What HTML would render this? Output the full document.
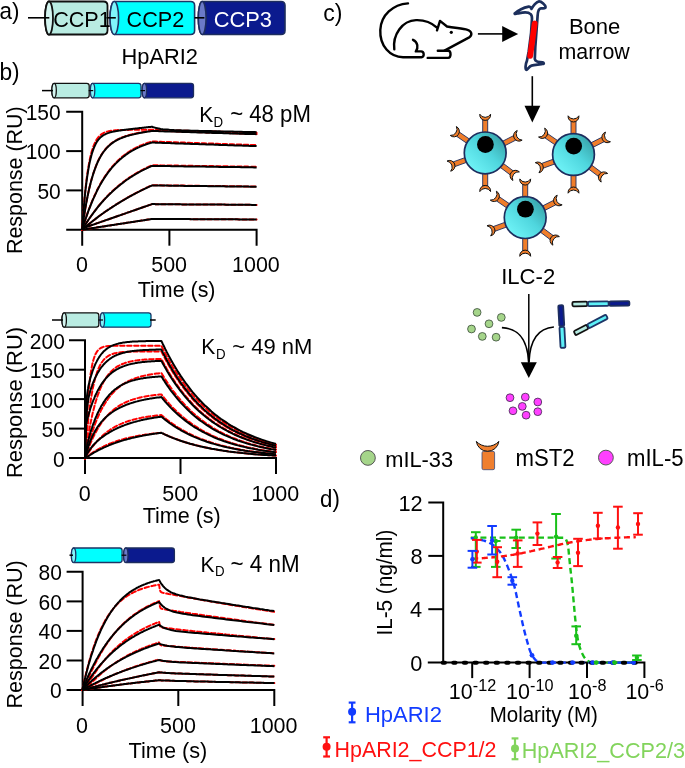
<!DOCTYPE html>
<html><head><meta charset="utf-8"><style>
html,body{margin:0;padding:0;background:#fff;}
svg{display:block;font-family:'Liberation Sans',Arial,Helvetica,sans-serif;}
</style></head><body>
<svg width="685" height="768" viewBox="0 0 685 768">
<text transform="translate(0,18.5) scale(1,1.04)" x="-0.4" y="0" font-size="22.43" fill="#000">a)</text>
<path d="M49,1.5 L103.5,1.5 Q107.5,1.5 107.5,5.5 L107.5,30.5 Q107.5,34.5 103.5,34.5 L49,34.5 A4,16.5 0 0 1 49,1.5 Z" fill="#b9ece2" stroke="#111" stroke-width="1.8"/>
<ellipse cx="49" cy="18" rx="4" ry="16.5" fill="#d4f5f0" stroke="#111" stroke-width="1.8"/>
<path d="M114.3,1.5 L190.6,1.5 Q194.6,1.5 194.6,5.5 L194.6,30.5 Q194.6,34.5 190.6,34.5 L114.3,34.5 A4.3,16.5 0 0 1 114.3,1.5 Z" fill="#00ffff" stroke="#1d3566" stroke-width="1.6"/>
<ellipse cx="114.3" cy="18" rx="4.3" ry="16.5" fill="#80f5fb" stroke="#1d3566" stroke-width="1.6"/>
<path d="M202.2,1.5 L281,1.5 Q285,1.5 285,5.5 L285,30.5 Q285,34.5 281,34.5 L202.2,34.5 A3.9,16.5 0 0 1 202.2,1.5 Z" fill="#0b1a8e" stroke="#1d2d5e" stroke-width="1.6"/>
<ellipse cx="202.2" cy="18" rx="3.9" ry="16.5" fill="#6b7ac8" stroke="#1d2d5e" stroke-width="1.6"/>
<line x1="28" y1="17.8" x2="49.3" y2="17.8" stroke="#000" stroke-width="1.6" />
<line x1="106.5" y1="17.8" x2="115.8" y2="17.8" stroke="#000" stroke-width="1.6" />
<line x1="194.6" y1="17.8" x2="204.4" y2="17.8" stroke="#000" stroke-width="1.6" />
<text transform="translate(0,27) scale(1,1.04)" x="53.2" y="0" font-size="21.60" fill="#000">CCP1</text>
<text transform="translate(0,26.6) scale(1,1.04)" x="126.6" y="0" font-size="21.63" fill="#000">CCP2</text>
<text transform="translate(0,26.6) scale(1,1.04)" x="213.7" y="0" font-size="21.84" fill="#fff">CCP3</text>
<text transform="translate(0,64.4) scale(1,1.04)" x="121.5" y="0" font-size="21.85" fill="#000">HpARI2</text>
<text transform="translate(0,80.3) scale(1,1.04)" x="-0.6" y="0" font-size="22.68" fill="#000">b)</text>
<path d="M54.1,83.3 L86.7,83.3 Q89.2,83.3 89.2,85.8 L89.2,95.3 Q89.2,97.8 86.7,97.8 L54.1,97.8 A2.2,7.2 0 0 1 54.1,83.3 Z" fill="#b9ece2" stroke="#111" stroke-width="1.3"/>
<ellipse cx="54.1" cy="90.6" rx="2.2" ry="7.2" fill="#d4f5f0" stroke="#111" stroke-width="1.3"/>
<path d="M92.6,83.3 L138.5,83.3 Q141,83.3 141,85.8 L141,95.3 Q141,97.8 138.5,97.8 L92.6,97.8 A2.2,7.2 0 0 1 92.6,83.3 Z" fill="#00ffff" stroke="#1d3566" stroke-width="1.3"/>
<ellipse cx="92.6" cy="90.6" rx="2.2" ry="7.2" fill="#80f5fb" stroke="#1d3566" stroke-width="1.3"/>
<path d="M144.4,83.3 L191,83.3 Q193.5,83.3 193.5,85.8 L193.5,95.3 Q193.5,97.8 191,97.8 L144.4,97.8 A2.2,7.2 0 0 1 144.4,83.3 Z" fill="#0b1a8e" stroke="#1d2d5e" stroke-width="1.3"/>
<ellipse cx="144.4" cy="90.6" rx="2.2" ry="7.2" fill="#6b7ac8" stroke="#1d2d5e" stroke-width="1.3"/>
<line x1="42" y1="90.6" x2="53" y2="90.6" stroke="#000" stroke-width="1.5" />
<line x1="88.7" y1="90.6" x2="93.2" y2="90.6" stroke="#000" stroke-width="1.2" />
<line x1="140.5" y1="90.6" x2="145" y2="90.6" stroke="#000" stroke-width="1.2" />
<path d="M64.2,312.8 L96.3,312.8 Q98.8,312.8 98.8,315.2 L98.8,324.8 Q98.8,327.2 96.3,327.2 L64.2,327.2 A2.2,7.2 0 0 1 64.2,312.8 Z" fill="#b9ece2" stroke="#111" stroke-width="1.3"/>
<ellipse cx="64.2" cy="320" rx="2.2" ry="7.2" fill="#d4f5f0" stroke="#111" stroke-width="1.3"/>
<path d="M102.4,312.8 L148.5,312.8 Q151,312.8 151,315.2 L151,324.8 Q151,327.2 148.5,327.2 L102.4,327.2 A2.2,7.2 0 0 1 102.4,312.8 Z" fill="#00ffff" stroke="#1d3566" stroke-width="1.3"/>
<ellipse cx="102.4" cy="320" rx="2.2" ry="7.2" fill="#80f5fb" stroke="#1d3566" stroke-width="1.3"/>
<line x1="52" y1="320" x2="63" y2="320" stroke="#000" stroke-width="1.5" />
<line x1="150" y1="320" x2="155.7" y2="320" stroke="#000" stroke-width="1.5" />
<line x1="98.3" y1="320" x2="103" y2="320" stroke="#000" stroke-width="1.2" />
<path d="M73.6,548 L119.6,548 Q122.1,548 122.1,550.5 L122.1,560 Q122.1,562.5 119.6,562.5 L73.6,562.5 A2.2,7.2 0 0 1 73.6,548 Z" fill="#00ffff" stroke="#1d3566" stroke-width="1.3"/>
<ellipse cx="73.6" cy="555.2" rx="2.2" ry="7.2" fill="#80f5fb" stroke="#1d3566" stroke-width="1.3"/>
<path d="M125.8,548 L171.9,548 Q174.4,548 174.4,550.5 L174.4,560 Q174.4,562.5 171.9,562.5 L125.8,562.5 A2.2,7.2 0 0 1 125.8,548 Z" fill="#0b1a8e" stroke="#1d2d5e" stroke-width="1.3"/>
<ellipse cx="125.8" cy="555.2" rx="2.2" ry="7.2" fill="#6b7ac8" stroke="#1d2d5e" stroke-width="1.3"/>
<line x1="69.5" y1="555.2" x2="73" y2="555.2" stroke="#000" stroke-width="1.5" />
<line x1="121.6" y1="555.2" x2="126.4" y2="555.2" stroke="#000" stroke-width="1.2" />
<path d="M66.2,111.8 H82.2 V245.7" fill="none" stroke="#000" stroke-width="2.0"/>
<line x1="66.2" y1="190.4" x2="82.2" y2="190.4" stroke="#000" stroke-width="2.0" />
<line x1="66.2" y1="151.1" x2="82.2" y2="151.1" stroke="#000" stroke-width="2.0" />
<path d="M66.2,229.7 H256.6 V245.7" fill="none" stroke="#000" stroke-width="2.0"/>
<line x1="169.4" y1="229.7" x2="169.4" y2="245.7" stroke="#000" stroke-width="2.0" />
<path d="M82.2,229.7 L82.5,224.3 L82.9,219.1 L83.2,214.2 L83.6,209.7 L83.9,205.3 L84.3,201.2 L84.6,197.3 L85,193.6 L85.3,190.1 L85.7,186.9 L86.4,180.8 L87.1,175.4 L87.8,170.6 L88.5,166.3 L89.2,162.4 L89.9,158.9 L90.6,155.8 L91.3,153.1 L92,150.6 L92.7,148.4 L93.4,146.4 L94.1,144.7 L94.8,143.1 L95.5,141.7 L96.2,140.4 L96.8,139.3 L97.5,138.3 L98.2,137.4 L98.9,136.6 L99.6,135.9 L100.3,135.2 L101,134.6 L101.7,134.1 L102.4,133.7 L103.1,133.3 L103.8,132.9 L104.5,132.6 L105.2,132.3 L105.9,132 L106.6,131.8 L107.3,131.6 L108,131.4 L108.7,131.2 L109.4,131.1 L110.1,130.9 L110.8,130.8 L111.5,130.7 L112.2,130.6 L112.9,130.5 L113.6,130.4 L114.3,130.4 L115,130.3 L115.7,130.3 L116.4,130.2 L117.1,130.2 L117.8,130.1 L118.5,130.1 L119.2,130.1 L119.9,130 L120.6,130 L121.3,130 L122,130 L122.7,129.9 L123.4,129.9 L124.1,129.9 L124.8,129.9 L125.5,129.9 L126.1,129.9 L126.8,129.9 L127.5,129.9 L128.2,129.9 L128.9,129.8 L129.6,129.8 L130.3,129.8 L131,129.8 L131.7,129.8 L132.4,129.8 L133.1,129.8 L133.8,129.8 L134.5,129.8 L135.2,129.8 L135.9,129.8 L136.6,129.8 L137.3,129.8 L138,129.8 L138.7,129.8 L139.4,129.8 L140.1,129.8 L140.8,129.8 L141.5,129.8 L142.2,129.8 L142.9,129.8 L143.6,129.8 L144.3,129.8 L145,129.8 L145.7,129.8 L146.4,129.8 L147.1,129.8 L147.8,129.8 L148.5,129.8 L149.2,129.8 L149.9,129.8 L150.6,129.8 L151.3,129.8 L152,129.8 L152.7,129.8 L153.4,129.8 L154.1,129.9 L154.8,129.9 L155.4,129.9 L156.1,129.9 L156.8,129.9 L157.5,130 L158.2,130 L158.9,130 L160.7,130 L162.9,130.1 L165,130.2 L167.2,130.2 L169.4,130.3 L171.6,130.4 L173.8,130.4 L175.9,130.5 L178.1,130.5 L180.3,130.6 L182.5,130.7 L184.7,130.7 L186.8,130.8 L189,130.9 L191.2,130.9 L193.4,131 L195.6,131 L197.7,131.1 L199.9,131.2 L202.1,131.2 L204.3,131.3 L206.5,131.3 L208.6,131.4 L210.8,131.5 L213,131.5 L215.2,131.6 L217.4,131.6 L219.5,131.7 L221.7,131.8 L223.9,131.8 L226.1,131.9 L228.3,132 L230.4,132 L232.6,132.1 L234.8,132.1 L237,132.2 L239.2,132.3 L241.3,132.3 L243.5,132.4 L245.7,132.4 L247.9,132.5 L250.1,132.6 L252.2,132.6 L254.4,132.7 L256.6,132.7" fill="none" stroke="#ff0000" stroke-width="2" stroke-linejoin="round" stroke-dasharray="4.5,2.5" stroke-linecap="round"/>
<path d="M82.2,229.7 L82.5,227 L82.9,224.5 L83.2,221.9 L83.6,219.5 L83.9,217.1 L84.3,214.8 L84.6,212.6 L85,210.4 L85.3,208.3 L85.7,206.2 L86.4,202.3 L87.1,198.6 L87.8,195.1 L88.5,191.8 L89.2,188.7 L89.9,185.7 L90.6,182.9 L91.3,180.3 L92,177.8 L92.7,175.4 L93.4,173.2 L94.1,171.1 L94.8,169.1 L95.5,167.3 L96.2,165.5 L96.8,163.8 L97.5,162.2 L98.2,160.7 L98.9,159.3 L99.6,157.9 L100.3,156.7 L101,155.5 L101.7,154.3 L102.4,153.2 L103.1,152.2 L103.8,151.2 L104.5,150.3 L105.2,149.4 L105.9,148.6 L106.6,147.8 L107.3,147.1 L108,146.4 L108.7,145.7 L109.4,145 L110.1,144.4 L110.8,143.8 L111.5,143.3 L112.2,142.8 L112.9,142.3 L113.6,141.8 L114.3,141.3 L115,140.9 L115.7,140.5 L116.4,140.1 L117.1,139.7 L117.8,139.3 L118.5,139 L119.2,138.6 L119.9,138.3 L120.6,138 L121.3,137.7 L122,137.4 L122.7,137.2 L123.4,136.9 L124.1,136.7 L124.8,136.4 L125.5,136.2 L126.1,135.9 L126.8,135.7 L127.5,135.5 L128.2,135.3 L128.9,135.1 L129.6,134.9 L130.3,134.7 L131,134.6 L131.7,134.4 L132.4,134.2 L133.1,134 L133.8,133.9 L134.5,133.7 L135.2,133.6 L135.9,133.4 L136.6,133.3 L137.3,133.1 L138,133 L138.7,132.8 L139.4,132.7 L140.1,132.6 L140.8,132.4 L141.5,132.3 L142.2,132.2 L142.9,132 L143.6,131.9 L144.3,131.8 L145,131.7 L145.7,131.6 L146.4,131.4 L147.1,131.3 L147.8,131.2 L148.5,131.1 L149.2,131 L149.9,130.9 L150.6,130.8 L151.3,130.7 L152,130.5 L152.7,130.6 L153.4,130.6 L154.1,130.6 L154.8,130.6 L155.4,130.7 L156.1,130.7 L156.8,130.7 L157.5,130.7 L158.2,130.8 L158.9,130.8 L160.7,130.8 L162.9,130.9 L165,131 L167.2,131.1 L169.4,131.1 L171.6,131.2 L173.8,131.3 L175.9,131.4 L178.1,131.4 L180.3,131.5 L182.5,131.6 L184.7,131.7 L186.8,131.7 L189,131.8 L191.2,131.9 L193.4,132 L195.6,132 L197.7,132.1 L199.9,132.2 L202.1,132.2 L204.3,132.3 L206.5,132.4 L208.6,132.5 L210.8,132.5 L213,132.6 L215.2,132.7 L217.4,132.8 L219.5,132.8 L221.7,132.9 L223.9,133 L226.1,133 L228.3,133.1 L230.4,133.2 L232.6,133.3 L234.8,133.3 L237,133.4 L239.2,133.5 L241.3,133.6 L243.5,133.6 L245.7,133.7 L247.9,133.8 L250.1,133.8 L252.2,133.9 L254.4,134 L256.6,134.1" fill="none" stroke="#ff0000" stroke-width="2" stroke-linejoin="round" stroke-dasharray="4.5,2.5" stroke-linecap="round"/>
<path d="M82.2,229.7 L82.5,228.5 L82.9,227.4 L83.2,226.2 L83.6,225.1 L83.9,223.9 L84.3,222.8 L84.6,221.7 L85,220.6 L85.3,219.6 L85.7,218.5 L86.4,216.4 L87.1,214.4 L87.8,212.4 L88.5,210.5 L89.2,208.6 L89.9,206.8 L90.6,205 L91.3,203.2 L92,201.5 L92.7,199.9 L93.4,198.3 L94.1,196.7 L94.8,195.1 L95.5,193.6 L96.2,192.2 L96.8,190.7 L97.5,189.3 L98.2,188 L98.9,186.6 L99.6,185.3 L100.3,184.1 L101,182.8 L101.7,181.6 L102.4,180.4 L103.1,179.3 L103.8,178.2 L104.5,177.1 L105.2,176 L105.9,175 L106.6,174 L107.3,173 L108,172 L108.7,171.1 L109.4,170.1 L110.1,169.2 L110.8,168.4 L111.5,167.5 L112.2,166.7 L112.9,165.9 L113.6,165.1 L114.3,164.3 L115,163.5 L115.7,162.8 L116.4,162.1 L117.1,161.4 L117.8,160.7 L118.5,160 L119.2,159.4 L119.9,158.7 L120.6,158.1 L121.3,157.5 L122,156.9 L122.7,156.4 L123.4,155.8 L124.1,155.2 L124.8,154.7 L125.5,154.2 L126.1,153.7 L126.8,153.2 L127.5,152.7 L128.2,152.2 L128.9,151.8 L129.6,151.3 L130.3,150.9 L131,150.4 L131.7,150 L132.4,149.6 L133.1,149.2 L133.8,148.8 L134.5,148.5 L135.2,148.1 L135.9,147.7 L136.6,147.4 L137.3,147 L138,146.7 L138.7,146.4 L139.4,146.1 L140.1,145.7 L140.8,145.4 L141.5,145.2 L142.2,144.9 L142.9,144.6 L143.6,144.3 L144.3,144 L145,143.8 L145.7,143.5 L146.4,143.3 L147.1,143 L147.8,142.8 L148.5,142.6 L149.2,142.3 L149.9,142.1 L150.6,141.9 L151.3,141.7 L152,141.5 L152.7,141.5 L153.4,141.5 L154.1,141.6 L154.8,141.6 L155.4,141.6 L156.1,141.6 L156.8,141.7 L157.5,141.7 L158.2,141.7 L158.9,141.7 L160.7,141.8 L162.9,141.9 L165,142 L167.2,142 L169.4,142.1 L171.6,142.2 L173.8,142.3 L175.9,142.3 L178.1,142.4 L180.3,142.5 L182.5,142.6 L184.7,142.6 L186.8,142.7 L189,142.8 L191.2,142.9 L193.4,142.9 L195.6,143 L197.7,143.1 L199.9,143.2 L202.1,143.2 L204.3,143.3 L206.5,143.4 L208.6,143.5 L210.8,143.6 L213,143.6 L215.2,143.7 L217.4,143.8 L219.5,143.9 L221.7,143.9 L223.9,144 L226.1,144.1 L228.3,144.2 L230.4,144.2 L232.6,144.3 L234.8,144.4 L237,144.4 L239.2,144.5 L241.3,144.6 L243.5,144.7 L245.7,144.7 L247.9,144.8 L250.1,144.9 L252.2,145 L254.4,145 L256.6,145.1" fill="none" stroke="#ff0000" stroke-width="2" stroke-linejoin="round" stroke-dasharray="4.5,2.5" stroke-linecap="round"/>
<path d="M82.2,229.7 L82.5,229.1 L82.9,228.5 L83.2,228 L83.6,227.4 L83.9,226.8 L84.3,226.2 L84.6,225.7 L85,225.1 L85.3,224.6 L85.7,224 L86.4,222.9 L87.1,221.8 L87.8,220.8 L88.5,219.7 L89.2,218.7 L89.9,217.7 L90.6,216.7 L91.3,215.7 L92,214.7 L92.7,213.7 L93.4,212.8 L94.1,211.8 L94.8,210.9 L95.5,210 L96.2,209.1 L96.8,208.2 L97.5,207.3 L98.2,206.4 L98.9,205.6 L99.6,204.7 L100.3,203.9 L101,203.1 L101.7,202.3 L102.4,201.5 L103.1,200.7 L103.8,199.9 L104.5,199.1 L105.2,198.4 L105.9,197.6 L106.6,196.9 L107.3,196.2 L108,195.4 L108.7,194.7 L109.4,194 L110.1,193.3 L110.8,192.7 L111.5,192 L112.2,191.3 L112.9,190.7 L113.6,190 L114.3,189.4 L115,188.8 L115.7,188.2 L116.4,187.5 L117.1,186.9 L117.8,186.4 L118.5,185.8 L119.2,185.2 L119.9,184.6 L120.6,184.1 L121.3,183.5 L122,183 L122.7,182.4 L123.4,181.9 L124.1,181.4 L124.8,180.8 L125.5,180.3 L126.1,179.8 L126.8,179.3 L127.5,178.8 L128.2,178.3 L128.9,177.9 L129.6,177.4 L130.3,176.9 L131,176.5 L131.7,176 L132.4,175.6 L133.1,175.1 L133.8,174.7 L134.5,174.3 L135.2,173.8 L135.9,173.4 L136.6,173 L137.3,172.6 L138,172.2 L138.7,171.8 L139.4,171.4 L140.1,171 L140.8,170.7 L141.5,170.3 L142.2,169.9 L142.9,169.6 L143.6,169.2 L144.3,168.8 L145,168.5 L145.7,168.1 L146.4,167.8 L147.1,167.5 L147.8,167.1 L148.5,166.8 L149.2,166.5 L149.9,166.2 L150.6,165.9 L151.3,165.5 L152,165.2 L152.7,165.3 L153.4,165.3 L154.1,165.3 L154.8,165.3 L155.4,165.3 L156.1,165.3 L156.8,165.3 L157.5,165.3 L158.2,165.3 L158.9,165.3 L160.7,165.4 L162.9,165.4 L165,165.4 L167.2,165.5 L169.4,165.5 L171.6,165.5 L173.8,165.6 L175.9,165.6 L178.1,165.6 L180.3,165.7 L182.5,165.7 L184.7,165.7 L186.8,165.8 L189,165.8 L191.2,165.8 L193.4,165.9 L195.6,165.9 L197.7,165.9 L199.9,165.9 L202.1,166 L204.3,166 L206.5,166 L208.6,166.1 L210.8,166.1 L213,166.1 L215.2,166.2 L217.4,166.2 L219.5,166.2 L221.7,166.3 L223.9,166.3 L226.1,166.3 L228.3,166.4 L230.4,166.4 L232.6,166.4 L234.8,166.5 L237,166.5 L239.2,166.5 L241.3,166.5 L243.5,166.6 L245.7,166.6 L247.9,166.6 L250.1,166.7 L252.2,166.7 L254.4,166.7 L256.6,166.8" fill="none" stroke="#ff0000" stroke-width="2" stroke-linejoin="round" stroke-dasharray="4.5,2.5" stroke-linecap="round"/>
<path d="M82.2,229.7 L82.5,229.4 L82.9,229.1 L83.2,228.8 L83.6,228.5 L83.9,228.2 L84.3,227.9 L84.6,227.6 L85,227.3 L85.3,227 L85.7,226.7 L86.4,226.1 L87.1,225.6 L87.8,225 L88.5,224.4 L89.2,223.8 L89.9,223.3 L90.6,222.7 L91.3,222.2 L92,221.6 L92.7,221 L93.4,220.5 L94.1,220 L94.8,219.4 L95.5,218.9 L96.2,218.3 L96.8,217.8 L97.5,217.3 L98.2,216.8 L98.9,216.2 L99.6,215.7 L100.3,215.2 L101,214.7 L101.7,214.2 L102.4,213.7 L103.1,213.2 L103.8,212.7 L104.5,212.2 L105.2,211.7 L105.9,211.2 L106.6,210.8 L107.3,210.3 L108,209.8 L108.7,209.3 L109.4,208.9 L110.1,208.4 L110.8,207.9 L111.5,207.5 L112.2,207 L112.9,206.5 L113.6,206.1 L114.3,205.6 L115,205.2 L115.7,204.7 L116.4,204.3 L117.1,203.9 L117.8,203.4 L118.5,203 L119.2,202.6 L119.9,202.1 L120.6,201.7 L121.3,201.3 L122,200.9 L122.7,200.5 L123.4,200 L124.1,199.6 L124.8,199.2 L125.5,198.8 L126.1,198.4 L126.8,198 L127.5,197.6 L128.2,197.2 L128.9,196.8 L129.6,196.4 L130.3,196.1 L131,195.7 L131.7,195.3 L132.4,194.9 L133.1,194.5 L133.8,194.2 L134.5,193.8 L135.2,193.4 L135.9,193 L136.6,192.7 L137.3,192.3 L138,192 L138.7,191.6 L139.4,191.2 L140.1,190.9 L140.8,190.5 L141.5,190.2 L142.2,189.8 L142.9,189.5 L143.6,189.2 L144.3,188.8 L145,188.5 L145.7,188.1 L146.4,187.8 L147.1,187.5 L147.8,187.1 L148.5,186.8 L149.2,186.5 L149.9,186.2 L150.6,185.9 L151.3,185.5 L152,185.2 L152.7,185.2 L153.4,185.2 L154.1,185.2 L154.8,185.3 L155.4,185.3 L156.1,185.3 L156.8,185.3 L157.5,185.3 L158.2,185.3 L158.9,185.3 L160.7,185.3 L162.9,185.4 L165,185.4 L167.2,185.4 L169.4,185.4 L171.6,185.5 L173.8,185.5 L175.9,185.5 L178.1,185.6 L180.3,185.6 L182.5,185.6 L184.7,185.6 L186.8,185.7 L189,185.7 L191.2,185.7 L193.4,185.7 L195.6,185.8 L197.7,185.8 L199.9,185.8 L202.1,185.9 L204.3,185.9 L206.5,185.9 L208.6,185.9 L210.8,186 L213,186 L215.2,186 L217.4,186 L219.5,186.1 L221.7,186.1 L223.9,186.1 L226.1,186.2 L228.3,186.2 L230.4,186.2 L232.6,186.2 L234.8,186.3 L237,186.3 L239.2,186.3 L241.3,186.3 L243.5,186.4 L245.7,186.4 L247.9,186.4 L250.1,186.5 L252.2,186.5 L254.4,186.5 L256.6,186.5" fill="none" stroke="#ff0000" stroke-width="2" stroke-linejoin="round" stroke-dasharray="4.5,2.5" stroke-linecap="round"/>
<path d="M82.2,229.7 L82.5,229.1 L82.9,228.7 L83.2,228.4 L83.6,228.2 L83.9,228 L84.3,227.8 L84.6,227.7 L85,227.5 L85.3,227.4 L85.7,227.3 L86.4,227 L87.1,226.8 L87.8,226.5 L88.5,226.3 L89.2,226 L89.9,225.8 L90.6,225.5 L91.3,225.3 L92,225 L92.7,224.8 L93.4,224.6 L94.1,224.3 L94.8,224.1 L95.5,223.8 L96.2,223.6 L96.8,223.3 L97.5,223.1 L98.2,222.9 L98.9,222.6 L99.6,222.4 L100.3,222.1 L101,221.9 L101.7,221.6 L102.4,221.4 L103.1,221.2 L103.8,220.9 L104.5,220.7 L105.2,220.4 L105.9,220.2 L106.6,219.9 L107.3,219.7 L108,219.5 L108.7,219.2 L109.4,219 L110.1,218.7 L110.8,218.5 L111.5,218.2 L112.2,218 L112.9,217.8 L113.6,217.5 L114.3,217.3 L115,217 L115.7,216.8 L116.4,216.5 L117.1,216.3 L117.8,216 L118.5,215.8 L119.2,215.6 L119.9,215.3 L120.6,215.1 L121.3,214.8 L122,214.6 L122.7,214.3 L123.4,214.1 L124.1,213.9 L124.8,213.6 L125.5,213.4 L126.1,213.1 L126.8,212.9 L127.5,212.6 L128.2,212.4 L128.9,212.2 L129.6,211.9 L130.3,211.7 L131,211.4 L131.7,211.2 L132.4,210.9 L133.1,210.7 L133.8,210.5 L134.5,210.2 L135.2,210 L135.9,209.7 L136.6,209.5 L137.3,209.2 L138,209 L138.7,208.7 L139.4,208.5 L140.1,208.3 L140.8,208 L141.5,207.8 L142.2,207.5 L142.9,207.3 L143.6,207 L144.3,206.8 L145,206.6 L145.7,206.3 L146.4,206.1 L147.1,205.8 L147.8,205.6 L148.5,205.3 L149.2,205.1 L149.9,204.9 L150.6,204.6 L151.3,204.4 L152,204.1 L152.7,204.1 L153.4,204.1 L154.1,204.1 L154.8,204.1 L155.4,204.2 L156.1,204.2 L156.8,204.2 L157.5,204.2 L158.2,204.2 L158.9,204.2 L160.7,204.2 L162.9,204.2 L165,204.2 L167.2,204.2 L169.4,204.3 L171.6,204.3 L173.8,204.3 L175.9,204.3 L178.1,204.3 L180.3,204.3 L182.5,204.4 L184.7,204.4 L186.8,204.4 L189,204.4 L191.2,204.4 L193.4,204.4 L195.6,204.4 L197.7,204.5 L199.9,204.5 L202.1,204.5 L204.3,204.5 L206.5,204.5 L208.6,204.5 L210.8,204.6 L213,204.6 L215.2,204.6 L217.4,204.6 L219.5,204.6 L221.7,204.6 L223.9,204.6 L226.1,204.7 L228.3,204.7 L230.4,204.7 L232.6,204.7 L234.8,204.7 L237,204.7 L239.2,204.8 L241.3,204.8 L243.5,204.8 L245.7,204.8 L247.9,204.8 L250.1,204.8 L252.2,204.9 L254.4,204.9 L256.6,204.9" fill="none" stroke="#ff0000" stroke-width="2" stroke-linejoin="round" stroke-dasharray="4.5,2.5" stroke-linecap="round"/>
<path d="M82.2,229.7 L82.5,229.6 L82.9,229.6 L83.2,229.5 L83.6,229.5 L83.9,229.4 L84.3,229.4 L84.6,229.3 L85,229.3 L85.3,229.2 L85.7,229.2 L86.4,229.1 L87.1,229 L87.8,228.8 L88.5,228.7 L89.2,228.6 L89.9,228.5 L90.6,228.4 L91.3,228.3 L92,228.2 L92.7,228.1 L93.4,228 L94.1,227.9 L94.8,227.8 L95.5,227.7 L96.2,227.6 L96.8,227.5 L97.5,227.3 L98.2,227.2 L98.9,227.1 L99.6,227 L100.3,226.9 L101,226.8 L101.7,226.7 L102.4,226.6 L103.1,226.5 L103.8,226.4 L104.5,226.3 L105.2,226.2 L105.9,226.1 L106.6,226 L107.3,225.8 L108,225.7 L108.7,225.6 L109.4,225.5 L110.1,225.4 L110.8,225.3 L111.5,225.2 L112.2,225.1 L112.9,225 L113.6,224.9 L114.3,224.8 L115,224.7 L115.7,224.6 L116.4,224.5 L117.1,224.3 L117.8,224.2 L118.5,224.1 L119.2,224 L119.9,223.9 L120.6,223.8 L121.3,223.7 L122,223.6 L122.7,223.5 L123.4,223.4 L124.1,223.3 L124.8,223.2 L125.5,223.1 L126.1,223 L126.8,222.8 L127.5,222.7 L128.2,222.6 L128.9,222.5 L129.6,222.4 L130.3,222.3 L131,222.2 L131.7,222.1 L132.4,222 L133.1,221.9 L133.8,221.8 L134.5,221.7 L135.2,221.6 L135.9,221.5 L136.6,221.3 L137.3,221.2 L138,221.1 L138.7,221 L139.4,220.9 L140.1,220.8 L140.8,220.7 L141.5,220.6 L142.2,220.5 L142.9,220.4 L143.6,220.3 L144.3,220.2 L145,220.1 L145.7,220 L146.4,219.8 L147.1,219.7 L147.8,219.6 L148.5,219.5 L149.2,219.4 L149.9,219.3 L150.6,219.2 L151.3,219.1 L152,219 L152.7,219 L153.4,219 L154.1,219 L154.8,219 L155.4,219 L156.1,219 L156.8,219 L157.5,219 L158.2,219 L158.9,219 L160.7,219 L162.9,219 L165,219 L167.2,219.1 L169.4,219.1 L171.6,219.1 L173.8,219.1 L175.9,219.1 L178.1,219.1 L180.3,219.1 L182.5,219.1 L184.7,219.1 L186.8,219.1 L189,219.1 L191.2,219.2 L193.4,219.2 L195.6,219.2 L197.7,219.2 L199.9,219.2 L202.1,219.2 L204.3,219.2 L206.5,219.2 L208.6,219.2 L210.8,219.2 L213,219.2 L215.2,219.3 L217.4,219.3 L219.5,219.3 L221.7,219.3 L223.9,219.3 L226.1,219.3 L228.3,219.3 L230.4,219.3 L232.6,219.3 L234.8,219.3 L237,219.3 L239.2,219.4 L241.3,219.4 L243.5,219.4 L245.7,219.4 L247.9,219.4 L250.1,219.4 L252.2,219.4 L254.4,219.4 L256.6,219.4" fill="none" stroke="#ff0000" stroke-width="2" stroke-linejoin="round" stroke-dasharray="4.5,2.5" stroke-linecap="round"/>
<path d="M82.2,229.7 L82.5,224.5 L82.9,219.5 L83.2,214.9 L83.6,210.5 L83.9,206.3 L84.3,202.3 L84.6,198.6 L85,195 L85.3,191.7 L85.7,188.5 L86.4,182.7 L87.1,177.4 L87.8,172.8 L88.5,168.6 L89.2,164.8 L89.9,161.4 L90.6,158.4 L91.3,155.7 L92,153.3 L92.7,151.1 L93.4,149.1 L94.1,147.4 L94.8,145.8 L95.5,144.3 L96.2,143.1 L96.8,141.9 L97.5,140.9 L98.2,139.9 L98.9,139.1 L99.6,138.3 L100.3,137.6 L101,137 L101.7,136.4 L102.4,135.9 L103.1,135.4 L103.8,135 L104.5,134.6 L105.2,134.3 L105.9,133.9 L106.6,133.6 L107.3,133.4 L108,133.1 L108.7,132.9 L109.4,132.6 L110.1,132.4 L110.8,132.2 L111.5,132.1 L112.2,131.9 L112.9,131.7 L113.6,131.6 L114.3,131.4 L115,131.3 L115.7,131.2 L116.4,131.1 L117.1,130.9 L117.8,130.8 L118.5,130.7 L119.2,130.6 L119.9,130.5 L120.6,130.4 L121.3,130.3 L122,130.2 L122.7,130.1 L123.4,130 L124.1,129.9 L124.8,129.8 L125.5,129.7 L126.1,129.7 L126.8,129.6 L127.5,129.5 L128.2,129.4 L128.9,129.3 L129.6,129.2 L130.3,129.2 L131,129.1 L131.7,129 L132.4,128.9 L133.1,128.8 L133.8,128.8 L134.5,128.7 L135.2,128.6 L135.9,128.5 L136.6,128.4 L137.3,128.4 L138,128.3 L138.7,128.2 L139.4,128.1 L140.1,128 L140.8,128 L141.5,127.9 L142.2,127.8 L142.9,127.7 L143.6,127.7 L144.3,127.6 L145,127.5 L145.7,127.4 L146.4,127.3 L147.1,127.3 L147.8,127.2 L148.5,127.1 L149.2,127 L149.9,127 L150.6,126.9 L151.3,126.8 L152,126.7 L152.7,127 L153.4,127.2 L154.1,127.4 L154.8,127.6 L155.4,127.8 L156.1,128 L156.8,128.2 L157.5,128.3 L158.2,128.5 L158.9,128.6 L160.7,128.9 L162.9,129.2 L165,129.4 L167.2,129.6 L169.4,129.8 L171.6,129.9 L173.8,130.1 L175.9,130.2 L178.1,130.3 L180.3,130.3 L182.5,130.4 L184.7,130.5 L186.8,130.6 L189,130.6 L191.2,130.7 L193.4,130.7 L195.6,130.8 L197.7,130.8 L199.9,130.9 L202.1,130.9 L204.3,131 L206.5,131 L208.6,131.1 L210.8,131.1 L213,131.2 L215.2,131.2 L217.4,131.3 L219.5,131.3 L221.7,131.4 L223.9,131.4 L226.1,131.5 L228.3,131.5 L230.4,131.6 L232.6,131.6 L234.8,131.7 L237,131.7 L239.2,131.8 L241.3,131.8 L243.5,131.9 L245.7,131.9 L247.9,132 L250.1,132 L252.2,132.1 L254.4,132.1 L256.6,132.2" fill="none" stroke="#000" stroke-width="2" stroke-linejoin="round"/>
<path d="M82.2,229.7 L82.5,227 L82.9,224.5 L83.2,222 L83.6,219.5 L83.9,217.2 L84.3,214.9 L84.6,212.7 L85,210.5 L85.3,208.4 L85.7,206.3 L86.4,202.4 L87.1,198.7 L87.8,195.2 L88.5,191.9 L89.2,188.8 L89.9,185.9 L90.6,183.1 L91.3,180.5 L92,178 L92.7,175.7 L93.4,173.4 L94.1,171.4 L94.8,169.4 L95.5,167.5 L96.2,165.7 L96.8,164.1 L97.5,162.5 L98.2,161 L98.9,159.6 L99.6,158.2 L100.3,157 L101,155.8 L101.7,154.6 L102.4,153.5 L103.1,152.5 L103.8,151.5 L104.5,150.6 L105.2,149.8 L105.9,148.9 L106.6,148.1 L107.3,147.4 L108,146.7 L108.7,146 L109.4,145.4 L110.1,144.8 L110.8,144.2 L111.5,143.6 L112.2,143.1 L112.9,142.6 L113.6,142.1 L114.3,141.7 L115,141.2 L115.7,140.8 L116.4,140.4 L117.1,140.1 L117.8,139.7 L118.5,139.3 L119.2,139 L119.9,138.7 L120.6,138.4 L121.3,138.1 L122,137.8 L122.7,137.5 L123.4,137.3 L124.1,137 L124.8,136.8 L125.5,136.5 L126.1,136.3 L126.8,136.1 L127.5,135.9 L128.2,135.7 L128.9,135.5 L129.6,135.3 L130.3,135.1 L131,134.9 L131.7,134.8 L132.4,134.6 L133.1,134.4 L133.8,134.3 L134.5,134.1 L135.2,133.9 L135.9,133.8 L136.6,133.6 L137.3,133.5 L138,133.4 L138.7,133.2 L139.4,133.1 L140.1,132.9 L140.8,132.8 L141.5,132.7 L142.2,132.6 L142.9,132.4 L143.6,132.3 L144.3,132.2 L145,132.1 L145.7,132 L146.4,131.8 L147.1,131.7 L147.8,131.6 L148.5,131.5 L149.2,131.4 L149.9,131.3 L150.6,131.2 L151.3,131.1 L152,130.9 L152.7,131 L153.4,131 L154.1,131 L154.8,131 L155.4,131.1 L156.1,131.1 L156.8,131.1 L157.5,131.1 L158.2,131.1 L158.9,131.2 L160.7,131.2 L162.9,131.3 L165,131.4 L167.2,131.4 L169.4,131.5 L171.6,131.6 L173.8,131.6 L175.9,131.7 L178.1,131.8 L180.3,131.8 L182.5,131.9 L184.7,132 L186.8,132 L189,132.1 L191.2,132.2 L193.4,132.2 L195.6,132.3 L197.7,132.4 L199.9,132.5 L202.1,132.5 L204.3,132.6 L206.5,132.7 L208.6,132.7 L210.8,132.8 L213,132.9 L215.2,132.9 L217.4,133 L219.5,133.1 L221.7,133.1 L223.9,133.2 L226.1,133.3 L228.3,133.3 L230.4,133.4 L232.6,133.5 L234.8,133.5 L237,133.6 L239.2,133.7 L241.3,133.7 L243.5,133.8 L245.7,133.9 L247.9,133.9 L250.1,134 L252.2,134.1 L254.4,134.1 L256.6,134.2" fill="none" stroke="#000" stroke-width="2" stroke-linejoin="round"/>
<path d="M82.2,229.7 L82.5,228.5 L82.9,227.4 L83.2,226.2 L83.6,225.1 L83.9,224 L84.3,222.9 L84.6,221.8 L85,220.7 L85.3,219.7 L85.7,218.6 L86.4,216.6 L87.1,214.6 L87.8,212.6 L88.5,210.7 L89.2,208.9 L89.9,207.1 L90.6,205.3 L91.3,203.6 L92,201.9 L92.7,200.2 L93.4,198.6 L94.1,197.1 L94.8,195.5 L95.5,194.1 L96.2,192.6 L96.8,191.2 L97.5,189.8 L98.2,188.5 L98.9,187.1 L99.6,185.9 L100.3,184.6 L101,183.4 L101.7,182.2 L102.4,181 L103.1,179.9 L103.8,178.8 L104.5,177.7 L105.2,176.6 L105.9,175.6 L106.6,174.6 L107.3,173.6 L108,172.7 L108.7,171.7 L109.4,170.8 L110.1,170 L110.8,169.1 L111.5,168.2 L112.2,167.4 L112.9,166.6 L113.6,165.8 L114.3,165.1 L115,164.3 L115.7,163.6 L116.4,162.9 L117.1,162.2 L117.8,161.5 L118.5,160.9 L119.2,160.2 L119.9,159.6 L120.6,159 L121.3,158.4 L122,157.8 L122.7,157.2 L123.4,156.7 L124.1,156.1 L124.8,155.6 L125.5,155.1 L126.1,154.6 L126.8,154.1 L127.5,153.6 L128.2,153.1 L128.9,152.7 L129.6,152.2 L130.3,151.8 L131,151.4 L131.7,151 L132.4,150.6 L133.1,150.2 L133.8,149.8 L134.5,149.4 L135.2,149.1 L135.9,148.7 L136.6,148.4 L137.3,148 L138,147.7 L138.7,147.4 L139.4,147.1 L140.1,146.7 L140.8,146.4 L141.5,146.2 L142.2,145.9 L142.9,145.6 L143.6,145.3 L144.3,145.1 L145,144.8 L145.7,144.5 L146.4,144.3 L147.1,144.1 L147.8,143.8 L148.5,143.6 L149.2,143.4 L149.9,143.2 L150.6,142.9 L151.3,142.7 L152,142.5 L152.7,142.6 L153.4,142.6 L154.1,142.6 L154.8,142.6 L155.4,142.7 L156.1,142.7 L156.8,142.7 L157.5,142.7 L158.2,142.8 L158.9,142.8 L160.7,142.8 L162.9,142.9 L165,143 L167.2,143.1 L169.4,143.1 L171.6,143.2 L173.8,143.3 L175.9,143.4 L178.1,143.4 L180.3,143.5 L182.5,143.6 L184.7,143.7 L186.8,143.7 L189,143.8 L191.2,143.9 L193.4,144 L195.6,144 L197.7,144.1 L199.9,144.2 L202.1,144.3 L204.3,144.3 L206.5,144.4 L208.6,144.5 L210.8,144.6 L213,144.6 L215.2,144.7 L217.4,144.8 L219.5,144.9 L221.7,144.9 L223.9,145 L226.1,145.1 L228.3,145.2 L230.4,145.2 L232.6,145.3 L234.8,145.4 L237,145.5 L239.2,145.5 L241.3,145.6 L243.5,145.7 L245.7,145.8 L247.9,145.8 L250.1,145.9 L252.2,146 L254.4,146 L256.6,146.1" fill="none" stroke="#000" stroke-width="2" stroke-linejoin="round"/>
<path d="M82.2,229.7 L82.5,229.1 L82.9,228.5 L83.2,228 L83.6,227.4 L83.9,226.8 L84.3,226.3 L84.6,225.7 L85,225.2 L85.3,224.6 L85.7,224.1 L86.4,223 L87.1,221.9 L87.8,220.9 L88.5,219.8 L89.2,218.8 L89.9,217.8 L90.6,216.8 L91.3,215.8 L92,214.8 L92.7,213.9 L93.4,212.9 L94.1,212 L94.8,211.1 L95.5,210.2 L96.2,209.3 L96.8,208.4 L97.5,207.5 L98.2,206.7 L98.9,205.8 L99.6,205 L100.3,204.2 L101,203.3 L101.7,202.5 L102.4,201.7 L103.1,201 L103.8,200.2 L104.5,199.4 L105.2,198.7 L105.9,197.9 L106.6,197.2 L107.3,196.5 L108,195.8 L108.7,195.1 L109.4,194.4 L110.1,193.7 L110.8,193 L111.5,192.4 L112.2,191.7 L112.9,191.1 L113.6,190.4 L114.3,189.8 L115,189.2 L115.7,188.6 L116.4,188 L117.1,187.4 L117.8,186.8 L118.5,186.2 L119.2,185.6 L119.9,185.1 L120.6,184.5 L121.3,184 L122,183.4 L122.7,182.9 L123.4,182.4 L124.1,181.8 L124.8,181.3 L125.5,180.8 L126.1,180.3 L126.8,179.8 L127.5,179.3 L128.2,178.9 L128.9,178.4 L129.6,177.9 L130.3,177.5 L131,177 L131.7,176.6 L132.4,176.1 L133.1,175.7 L133.8,175.2 L134.5,174.8 L135.2,174.4 L135.9,174 L136.6,173.6 L137.3,173.2 L138,172.8 L138.7,172.4 L139.4,172 L140.1,171.6 L140.8,171.2 L141.5,170.9 L142.2,170.5 L142.9,170.1 L143.6,169.8 L144.3,169.4 L145,169.1 L145.7,168.8 L146.4,168.4 L147.1,168.1 L147.8,167.8 L148.5,167.4 L149.2,167.1 L149.9,166.8 L150.6,166.5 L151.3,166.2 L152,165.9 L152.7,165.9 L153.4,165.9 L154.1,165.9 L154.8,165.9 L155.4,165.9 L156.1,165.9 L156.8,166 L157.5,166 L158.2,166 L158.9,166 L160.7,166 L162.9,166 L165,166.1 L167.2,166.1 L169.4,166.1 L171.6,166.2 L173.8,166.2 L175.9,166.2 L178.1,166.3 L180.3,166.3 L182.5,166.3 L184.7,166.4 L186.8,166.4 L189,166.4 L191.2,166.5 L193.4,166.5 L195.6,166.5 L197.7,166.5 L199.9,166.6 L202.1,166.6 L204.3,166.6 L206.5,166.7 L208.6,166.7 L210.8,166.7 L213,166.8 L215.2,166.8 L217.4,166.8 L219.5,166.9 L221.7,166.9 L223.9,166.9 L226.1,167 L228.3,167 L230.4,167 L232.6,167 L234.8,167.1 L237,167.1 L239.2,167.1 L241.3,167.2 L243.5,167.2 L245.7,167.2 L247.9,167.3 L250.1,167.3 L252.2,167.3 L254.4,167.4 L256.6,167.4" fill="none" stroke="#000" stroke-width="2" stroke-linejoin="round"/>
<path d="M82.2,229.7 L82.5,229.4 L82.9,229.1 L83.2,228.8 L83.6,228.5 L83.9,228.2 L84.3,227.9 L84.6,227.6 L85,227.3 L85.3,227 L85.7,226.7 L86.4,226.2 L87.1,225.6 L87.8,225 L88.5,224.4 L89.2,223.9 L89.9,223.3 L90.6,222.7 L91.3,222.2 L92,221.6 L92.7,221.1 L93.4,220.5 L94.1,220 L94.8,219.5 L95.5,218.9 L96.2,218.4 L96.8,217.9 L97.5,217.4 L98.2,216.8 L98.9,216.3 L99.6,215.8 L100.3,215.3 L101,214.8 L101.7,214.3 L102.4,213.8 L103.1,213.3 L103.8,212.8 L104.5,212.3 L105.2,211.8 L105.9,211.3 L106.6,210.8 L107.3,210.4 L108,209.9 L108.7,209.4 L109.4,209 L110.1,208.5 L110.8,208 L111.5,207.6 L112.2,207.1 L112.9,206.7 L113.6,206.2 L114.3,205.8 L115,205.3 L115.7,204.9 L116.4,204.4 L117.1,204 L117.8,203.6 L118.5,203.1 L119.2,202.7 L119.9,202.3 L120.6,201.9 L121.3,201.4 L122,201 L122.7,200.6 L123.4,200.2 L124.1,199.8 L124.8,199.4 L125.5,199 L126.1,198.6 L126.8,198.2 L127.5,197.8 L128.2,197.4 L128.9,197 L129.6,196.6 L130.3,196.2 L131,195.8 L131.7,195.5 L132.4,195.1 L133.1,194.7 L133.8,194.3 L134.5,194 L135.2,193.6 L135.9,193.2 L136.6,192.9 L137.3,192.5 L138,192.1 L138.7,191.8 L139.4,191.4 L140.1,191.1 L140.8,190.7 L141.5,190.4 L142.2,190 L142.9,189.7 L143.6,189.4 L144.3,189 L145,188.7 L145.7,188.3 L146.4,188 L147.1,187.7 L147.8,187.4 L148.5,187 L149.2,186.7 L149.9,186.4 L150.6,186.1 L151.3,185.8 L152,185.4 L152.7,185.4 L153.4,185.5 L154.1,185.5 L154.8,185.5 L155.4,185.5 L156.1,185.5 L156.8,185.5 L157.5,185.5 L158.2,185.5 L158.9,185.5 L160.7,185.6 L162.9,185.6 L165,185.6 L167.2,185.6 L169.4,185.7 L171.6,185.7 L173.8,185.7 L175.9,185.7 L178.1,185.8 L180.3,185.8 L182.5,185.8 L184.7,185.9 L186.8,185.9 L189,185.9 L191.2,185.9 L193.4,186 L195.6,186 L197.7,186 L199.9,186 L202.1,186.1 L204.3,186.1 L206.5,186.1 L208.6,186.2 L210.8,186.2 L213,186.2 L215.2,186.2 L217.4,186.3 L219.5,186.3 L221.7,186.3 L223.9,186.3 L226.1,186.4 L228.3,186.4 L230.4,186.4 L232.6,186.5 L234.8,186.5 L237,186.5 L239.2,186.5 L241.3,186.6 L243.5,186.6 L245.7,186.6 L247.9,186.6 L250.1,186.7 L252.2,186.7 L254.4,186.7 L256.6,186.7" fill="none" stroke="#000" stroke-width="2" stroke-linejoin="round"/>
<path d="M82.2,229.7 L82.5,229.1 L82.9,228.7 L83.2,228.4 L83.6,228.2 L83.9,228 L84.3,227.8 L84.6,227.7 L85,227.5 L85.3,227.4 L85.7,227.3 L86.4,227 L87.1,226.8 L87.8,226.5 L88.5,226.3 L89.2,226 L89.9,225.8 L90.6,225.5 L91.3,225.3 L92,225 L92.7,224.8 L93.4,224.6 L94.1,224.3 L94.8,224.1 L95.5,223.8 L96.2,223.6 L96.8,223.3 L97.5,223.1 L98.2,222.9 L98.9,222.6 L99.6,222.4 L100.3,222.1 L101,221.9 L101.7,221.6 L102.4,221.4 L103.1,221.2 L103.8,220.9 L104.5,220.7 L105.2,220.4 L105.9,220.2 L106.6,219.9 L107.3,219.7 L108,219.5 L108.7,219.2 L109.4,219 L110.1,218.7 L110.8,218.5 L111.5,218.2 L112.2,218 L112.9,217.8 L113.6,217.5 L114.3,217.3 L115,217 L115.7,216.8 L116.4,216.5 L117.1,216.3 L117.8,216 L118.5,215.8 L119.2,215.6 L119.9,215.3 L120.6,215.1 L121.3,214.8 L122,214.6 L122.7,214.3 L123.4,214.1 L124.1,213.9 L124.8,213.6 L125.5,213.4 L126.1,213.1 L126.8,212.9 L127.5,212.6 L128.2,212.4 L128.9,212.2 L129.6,211.9 L130.3,211.7 L131,211.4 L131.7,211.2 L132.4,210.9 L133.1,210.7 L133.8,210.5 L134.5,210.2 L135.2,210 L135.9,209.7 L136.6,209.5 L137.3,209.2 L138,209 L138.7,208.7 L139.4,208.5 L140.1,208.3 L140.8,208 L141.5,207.8 L142.2,207.5 L142.9,207.3 L143.6,207 L144.3,206.8 L145,206.6 L145.7,206.3 L146.4,206.1 L147.1,205.8 L147.8,205.6 L148.5,205.3 L149.2,205.1 L149.9,204.9 L150.6,204.6 L151.3,204.4 L152,204.1 L152.7,204.1 L153.4,204.1 L154.1,204.1 L154.8,204.1 L155.4,204.2 L156.1,204.2 L156.8,204.2 L157.5,204.2 L158.2,204.2 L158.9,204.2 L160.7,204.2 L162.9,204.2 L165,204.2 L167.2,204.2 L169.4,204.3 L171.6,204.3 L173.8,204.3 L175.9,204.3 L178.1,204.3 L180.3,204.3 L182.5,204.4 L184.7,204.4 L186.8,204.4 L189,204.4 L191.2,204.4 L193.4,204.4 L195.6,204.4 L197.7,204.5 L199.9,204.5 L202.1,204.5 L204.3,204.5 L206.5,204.5 L208.6,204.5 L210.8,204.6 L213,204.6 L215.2,204.6 L217.4,204.6 L219.5,204.6 L221.7,204.6 L223.9,204.6 L226.1,204.7 L228.3,204.7 L230.4,204.7 L232.6,204.7 L234.8,204.7 L237,204.7 L239.2,204.8 L241.3,204.8 L243.5,204.8 L245.7,204.8 L247.9,204.8 L250.1,204.8 L252.2,204.9 L254.4,204.9 L256.6,204.9" fill="none" stroke="#000" stroke-width="2" stroke-linejoin="round"/>
<path d="M82.2,229.7 L82.5,229.6 L82.9,229.6 L83.2,229.5 L83.6,229.5 L83.9,229.4 L84.3,229.4 L84.6,229.3 L85,229.3 L85.3,229.2 L85.7,229.2 L86.4,229.1 L87.1,229 L87.8,228.8 L88.5,228.7 L89.2,228.6 L89.9,228.5 L90.6,228.4 L91.3,228.3 L92,228.2 L92.7,228.1 L93.4,228 L94.1,227.9 L94.8,227.8 L95.5,227.7 L96.2,227.6 L96.8,227.5 L97.5,227.3 L98.2,227.2 L98.9,227.1 L99.6,227 L100.3,226.9 L101,226.8 L101.7,226.7 L102.4,226.6 L103.1,226.5 L103.8,226.4 L104.5,226.3 L105.2,226.2 L105.9,226.1 L106.6,226 L107.3,225.8 L108,225.7 L108.7,225.6 L109.4,225.5 L110.1,225.4 L110.8,225.3 L111.5,225.2 L112.2,225.1 L112.9,225 L113.6,224.9 L114.3,224.8 L115,224.7 L115.7,224.6 L116.4,224.5 L117.1,224.3 L117.8,224.2 L118.5,224.1 L119.2,224 L119.9,223.9 L120.6,223.8 L121.3,223.7 L122,223.6 L122.7,223.5 L123.4,223.4 L124.1,223.3 L124.8,223.2 L125.5,223.1 L126.1,223 L126.8,222.8 L127.5,222.7 L128.2,222.6 L128.9,222.5 L129.6,222.4 L130.3,222.3 L131,222.2 L131.7,222.1 L132.4,222 L133.1,221.9 L133.8,221.8 L134.5,221.7 L135.2,221.6 L135.9,221.5 L136.6,221.3 L137.3,221.2 L138,221.1 L138.7,221 L139.4,220.9 L140.1,220.8 L140.8,220.7 L141.5,220.6 L142.2,220.5 L142.9,220.4 L143.6,220.3 L144.3,220.2 L145,220.1 L145.7,220 L146.4,219.8 L147.1,219.7 L147.8,219.6 L148.5,219.5 L149.2,219.4 L149.9,219.3 L150.6,219.2 L151.3,219.1 L152,219 L152.7,219 L153.4,219 L154.1,219 L154.8,219 L155.4,219 L156.1,219 L156.8,219 L157.5,219 L158.2,219 L158.9,219 L160.7,219 L162.9,219 L165,219 L167.2,219.1 L169.4,219.1 L171.6,219.1 L173.8,219.1 L175.9,219.1 L178.1,219.1 L180.3,219.1 L182.5,219.1 L184.7,219.1 L186.8,219.1 L189,219.1 L191.2,219.2 L193.4,219.2 L195.6,219.2 L197.7,219.2 L199.9,219.2 L202.1,219.2 L204.3,219.2 L206.5,219.2 L208.6,219.2 L210.8,219.2 L213,219.2 L215.2,219.3 L217.4,219.3 L219.5,219.3 L221.7,219.3 L223.9,219.3 L226.1,219.3 L228.3,219.3 L230.4,219.3 L232.6,219.3 L234.8,219.3 L237,219.3 L239.2,219.4 L241.3,219.4 L243.5,219.4 L245.7,219.4 L247.9,219.4 L250.1,219.4 L252.2,219.4 L254.4,219.4 L256.6,219.4" fill="none" stroke="#000" stroke-width="2" stroke-linejoin="round"/>
<text transform="translate(0,120) scale(1,1.04)" x="25.7" y="0" font-size="21.00" fill="#000">150</text>
<text transform="translate(0,159.3) scale(1,1.04)" x="25.7" y="0" font-size="21.00" fill="#000">100</text>
<text transform="translate(0,198.6) scale(1,1.04)" x="37.4" y="0" font-size="21.00" fill="#000">50</text>
<text transform="translate(0,272.4) scale(1,1.04)" x="75.9" y="0" font-size="21.50" fill="#000">0</text>
<text transform="translate(0,272.4) scale(1,1.04)" x="151.2" y="0" font-size="21.50" fill="#000">500</text>
<text transform="translate(0,272.4) scale(1,1.04)" x="232" y="0" font-size="21.50" fill="#000">1000</text>
<text transform="translate(0,296.5) scale(1,1.04)" x="137.8" y="0" font-size="21.42" fill="#000">Time (s)</text>
<text transform="translate(21.9,0) rotate(-90) scale(1,1.04)" x="-254.1" y="0" font-size="21.46" fill="#000">Response (RU)</text>
<text transform="translate(0,122.2) scale(1,1.04)" x="199.2" y="0" font-size="21.00" fill="#000">K</text>
<text transform="translate(0,127.2) scale(1,1.04)" x="213.4" y="0" font-size="13.30" fill="#000">D</text>
<text transform="translate(0,122.2) scale(1,1.04)" x="230.2" y="0" font-size="22.17" fill="#000">~ 48 pM</text>
<path d="M69,340.3 H85 V474" fill="none" stroke="#000" stroke-width="2.0"/>
<line x1="69" y1="428.6" x2="85" y2="428.6" stroke="#000" stroke-width="2.0" />
<line x1="69" y1="399.1" x2="85" y2="399.1" stroke="#000" stroke-width="2.0" />
<line x1="69" y1="369.7" x2="85" y2="369.7" stroke="#000" stroke-width="2.0" />
<path d="M69,458 H276 V474" fill="none" stroke="#000" stroke-width="2.0"/>
<line x1="180.5" y1="458" x2="180.5" y2="474" stroke="#000" stroke-width="2.0" />
<path d="M85,458.4 L85.4,448.3 L85.8,439.1 L86.1,430.7 L86.5,423.1 L86.9,416.1 L87.3,409.8 L87.7,404.1 L88.1,398.8 L88.4,394.1 L88.8,389.7 L89.6,382.2 L90.3,375.9 L91.1,370.8 L91.9,366.5 L92.6,362.9 L93.4,360 L94.2,357.5 L94.9,355.5 L95.7,353.8 L96.5,352.4 L97.2,351.3 L98,350.3 L98.8,349.5 L99.5,348.9 L100.3,348.3 L101,347.9 L101.8,347.5 L102.6,347.2 L103.3,346.9 L104.1,346.7 L104.9,346.6 L105.6,346.4 L106.4,346.3 L107.2,346.2 L107.9,346.1 L108.7,346 L109.4,346 L110.2,345.9 L111,345.9 L111.7,345.9 L112.5,345.8 L113.3,345.8 L114,345.8 L114.8,345.8 L115.6,345.8 L116.3,345.8 L117.1,345.8 L117.9,345.7 L118.6,345.7 L119.4,345.7 L120.1,345.7 L120.9,345.7 L121.7,345.7 L122.4,345.7 L123.2,345.7 L124,345.7 L124.7,345.7 L125.5,345.7 L126.3,345.7 L127,345.7 L127.8,345.7 L128.5,345.7 L129.3,345.7 L130.1,345.7 L130.8,345.7 L131.6,345.7 L132.4,345.7 L133.1,345.7 L133.9,345.7 L134.7,345.7 L135.4,345.7 L136.2,345.7 L137,345.7 L137.7,345.7 L138.5,345.7 L139.2,345.7 L140,345.7 L140.8,345.7 L141.5,345.7 L142.3,345.7 L143.1,345.7 L143.8,345.7 L144.6,345.7 L145.4,345.7 L146.1,345.7 L146.9,345.7 L147.6,345.7 L148.4,345.7 L149.2,345.7 L149.9,345.7 L150.7,345.7 L151.5,345.7 L152.2,345.7 L153,345.7 L153.8,345.7 L154.5,345.7 L155.3,345.7 L156.1,345.7 L156.8,345.7 L157.6,345.7 L158.3,345.7 L159.1,345.7 L159.9,345.7 L160.6,345.7 L161.4,345.7 L162.2,347.3 L162.9,348.8 L163.7,350.3 L164.5,351.8 L165.2,353.3 L166,354.8 L166.7,356.2 L167.5,357.7 L168.3,359.1 L169,360.4 L170.9,363.8 L173.3,367.9 L175.7,371.7 L178.1,375.4 L180.5,379 L182.9,382.4 L185.3,385.6 L187.7,388.8 L190.1,391.7 L192.4,394.6 L194.8,397.3 L197.2,399.9 L199.6,402.4 L202,404.8 L204.4,407.1 L206.8,409.3 L209.2,411.4 L211.5,413.4 L213.9,415.4 L216.3,417.2 L218.7,419 L221.1,420.7 L223.5,422.3 L225.9,423.8 L228.2,425.3 L230.6,426.7 L233,428.1 L235.4,429.4 L237.8,430.6 L240.2,431.8 L242.6,432.9 L245,434 L247.3,435.1 L249.7,436.1 L252.1,437 L254.5,437.9 L256.9,438.8 L259.3,439.7 L261.7,440.5 L264.1,441.2 L266.5,442 L268.8,442.7 L271.2,443.3 L273.6,444 L276,444.6" fill="none" stroke="#ff0000" stroke-width="2" stroke-linejoin="round" stroke-dasharray="4.5,2.5" stroke-linecap="round"/>
<path d="M85,458.4 L85.4,453 L85.8,447.8 L86.1,443 L86.5,438.3 L86.9,433.9 L87.3,429.7 L87.7,425.8 L88.1,422 L88.4,418.4 L88.8,415.1 L89.6,408.8 L90.3,403.1 L91.1,398 L91.9,393.4 L92.6,389.3 L93.4,385.5 L94.2,382.2 L94.9,379.2 L95.7,376.4 L96.5,374 L97.2,371.7 L98,369.7 L98.8,367.9 L99.5,366.3 L100.3,364.8 L101,363.5 L101.8,362.3 L102.6,361.3 L103.3,360.3 L104.1,359.4 L104.9,358.6 L105.6,357.9 L106.4,357.3 L107.2,356.7 L107.9,356.2 L108.7,355.7 L109.4,355.3 L110.2,354.9 L111,354.6 L111.7,354.3 L112.5,354 L113.3,353.8 L114,353.5 L114.8,353.3 L115.6,353.2 L116.3,353 L117.1,352.8 L117.9,352.7 L118.6,352.6 L119.4,352.5 L120.1,352.4 L120.9,352.3 L121.7,352.2 L122.4,352.1 L123.2,352.1 L124,352 L124.7,352 L125.5,351.9 L126.3,351.9 L127,351.8 L127.8,351.8 L128.5,351.8 L129.3,351.7 L130.1,351.7 L130.8,351.7 L131.6,351.7 L132.4,351.7 L133.1,351.6 L133.9,351.6 L134.7,351.6 L135.4,351.6 L136.2,351.6 L137,351.6 L137.7,351.6 L138.5,351.6 L139.2,351.6 L140,351.6 L140.8,351.5 L141.5,351.5 L142.3,351.5 L143.1,351.5 L143.8,351.5 L144.6,351.5 L145.4,351.5 L146.1,351.5 L146.9,351.5 L147.6,351.5 L148.4,351.5 L149.2,351.5 L149.9,351.5 L150.7,351.5 L151.5,351.5 L152.2,351.5 L153,351.5 L153.8,351.5 L154.5,351.5 L155.3,351.5 L156.1,351.5 L156.8,351.5 L157.6,351.5 L158.3,351.5 L159.1,351.5 L159.9,351.5 L160.6,351.5 L161.4,351.5 L162.2,353 L162.9,354.5 L163.7,356 L164.5,357.5 L165.2,358.9 L166,360.3 L166.7,361.7 L167.5,363.1 L168.3,364.5 L169,365.8 L170.9,369.1 L173.3,373 L175.7,376.8 L178.1,380.4 L180.5,383.8 L182.9,387.1 L185.3,390.2 L187.7,393.2 L190.1,396.1 L192.4,398.8 L194.8,401.5 L197.2,404 L199.6,406.4 L202,408.7 L204.4,410.8 L206.8,412.9 L209.2,414.9 L211.5,416.8 L213.9,418.7 L216.3,420.4 L218.7,422.1 L221.1,423.7 L223.5,425.2 L225.9,426.7 L228.2,428.1 L230.6,429.4 L233,430.7 L235.4,431.9 L237.8,433.1 L240.2,434.2 L242.6,435.3 L245,436.3 L247.3,437.2 L249.7,438.2 L252.1,439.1 L254.5,439.9 L256.9,440.7 L259.3,441.5 L261.7,442.2 L264.1,443 L266.5,443.6 L268.8,444.3 L271.2,444.9 L273.6,445.5 L276,446.1" fill="none" stroke="#ff0000" stroke-width="2" stroke-linejoin="round" stroke-dasharray="4.5,2.5" stroke-linecap="round"/>
<path d="M85,458.4 L85.4,455.5 L85.8,452.6 L86.1,449.8 L86.5,447.1 L86.9,444.5 L87.3,442 L87.7,439.5 L88.1,437.1 L88.4,434.8 L88.8,432.6 L89.6,428.3 L90.3,424.2 L91.1,420.4 L91.9,416.8 L92.6,413.4 L93.4,410.2 L94.2,407.2 L94.9,404.4 L95.7,401.7 L96.5,399.2 L97.2,396.9 L98,394.6 L98.8,392.6 L99.5,390.6 L100.3,388.7 L101,387 L101.8,385.3 L102.6,383.8 L103.3,382.3 L104.1,380.9 L104.9,379.6 L105.6,378.4 L106.4,377.3 L107.2,376.2 L107.9,375.2 L108.7,374.2 L109.4,373.3 L110.2,372.5 L111,371.7 L111.7,370.9 L112.5,370.2 L113.3,369.5 L114,368.9 L114.8,368.3 L115.6,367.7 L116.3,367.2 L117.1,366.7 L117.9,366.2 L118.6,365.8 L119.4,365.4 L120.1,365 L120.9,364.6 L121.7,364.3 L122.4,364 L123.2,363.7 L124,363.4 L124.7,363.1 L125.5,362.8 L126.3,362.6 L127,362.4 L127.8,362.2 L128.5,362 L129.3,361.8 L130.1,361.6 L130.8,361.4 L131.6,361.3 L132.4,361.1 L133.1,361 L133.9,360.8 L134.7,360.7 L135.4,360.6 L136.2,360.5 L137,360.4 L137.7,360.3 L138.5,360.2 L139.2,360.1 L140,360 L140.8,359.9 L141.5,359.9 L142.3,359.8 L143.1,359.7 L143.8,359.7 L144.6,359.6 L145.4,359.6 L146.1,359.5 L146.9,359.5 L147.6,359.4 L148.4,359.4 L149.2,359.3 L149.9,359.3 L150.7,359.3 L151.5,359.2 L152.2,359.2 L153,359.2 L153.8,359.1 L154.5,359.1 L155.3,359.1 L156.1,359.1 L156.8,359 L157.6,359 L158.3,359 L159.1,359 L159.9,359 L160.6,359 L161.4,358.9 L162.2,360.4 L162.9,361.8 L163.7,363.2 L164.5,364.6 L165.2,366 L166,367.3 L166.7,368.7 L167.5,370 L168.3,371.3 L169,372.6 L170.9,375.7 L173.3,379.4 L175.7,382.9 L178.1,386.3 L180.5,389.6 L182.9,392.7 L185.3,395.6 L187.7,398.4 L190.1,401.1 L192.4,403.7 L194.8,406.2 L197.2,408.5 L199.6,410.8 L202,412.9 L204.4,414.9 L206.8,416.9 L209.2,418.8 L211.5,420.5 L213.9,422.2 L216.3,423.9 L218.7,425.4 L221.1,426.9 L223.5,428.3 L225.9,429.7 L228.2,431 L230.6,432.2 L233,433.4 L235.4,434.5 L237.8,435.6 L240.2,436.6 L242.6,437.6 L245,438.5 L247.3,439.4 L249.7,440.3 L252.1,441.1 L254.5,441.9 L256.9,442.6 L259.3,443.3 L261.7,444 L264.1,444.6 L266.5,445.3 L268.8,445.8 L271.2,446.4 L273.6,447 L276,447.5" fill="none" stroke="#ff0000" stroke-width="2" stroke-linejoin="round" stroke-dasharray="4.5,2.5" stroke-linecap="round"/>
<path d="M85,458.4 L85.4,456.8 L85.8,455.1 L86.1,453.6 L86.5,452 L86.9,450.5 L87.3,449 L87.7,447.5 L88.1,446.1 L88.4,444.7 L88.8,443.3 L89.6,440.6 L90.3,438 L91.1,435.5 L91.9,433.1 L92.6,430.8 L93.4,428.6 L94.2,426.4 L94.9,424.4 L95.7,422.4 L96.5,420.5 L97.2,418.6 L98,416.8 L98.8,415.1 L99.5,413.5 L100.3,411.9 L101,410.4 L101.8,408.9 L102.6,407.5 L103.3,406.2 L104.1,404.9 L104.9,403.6 L105.6,402.4 L106.4,401.2 L107.2,400.1 L107.9,399 L108.7,398 L109.4,397 L110.2,396 L111,395.1 L111.7,394.2 L112.5,393.3 L113.3,392.5 L114,391.7 L114.8,390.9 L115.6,390.2 L116.3,389.5 L117.1,388.8 L117.9,388.1 L118.6,387.5 L119.4,386.9 L120.1,386.3 L120.9,385.7 L121.7,385.2 L122.4,384.6 L123.2,384.1 L124,383.7 L124.7,383.2 L125.5,382.7 L126.3,382.3 L127,381.9 L127.8,381.5 L128.5,381.1 L129.3,380.7 L130.1,380.4 L130.8,380 L131.6,379.7 L132.4,379.4 L133.1,379 L133.9,378.8 L134.7,378.5 L135.4,378.2 L136.2,377.9 L137,377.7 L137.7,377.4 L138.5,377.2 L139.2,377 L140,376.7 L140.8,376.5 L141.5,376.3 L142.3,376.1 L143.1,375.9 L143.8,375.8 L144.6,375.6 L145.4,375.4 L146.1,375.3 L146.9,375.1 L147.6,375 L148.4,374.8 L149.2,374.7 L149.9,374.5 L150.7,374.4 L151.5,374.3 L152.2,374.2 L153,374 L153.8,373.9 L154.5,373.8 L155.3,373.7 L156.1,373.6 L156.8,373.5 L157.6,373.4 L158.3,373.4 L159.1,373.3 L159.9,373.2 L160.6,373.1 L161.4,373 L162.2,374.3 L162.9,375.6 L163.7,376.8 L164.5,378.1 L165.2,379.3 L166,380.5 L166.7,381.6 L167.5,382.8 L168.3,383.9 L169,385.1 L170.9,387.8 L173.3,391.1 L175.7,394.2 L178.1,397.2 L180.5,400 L182.9,402.7 L185.3,405.3 L187.7,407.8 L190.1,410.1 L192.4,412.4 L194.8,414.5 L197.2,416.5 L199.6,418.5 L202,420.3 L204.4,422.1 L206.8,423.8 L209.2,425.4 L211.5,426.9 L213.9,428.4 L216.3,429.8 L218.7,431.1 L221.1,432.4 L223.5,433.6 L225.9,434.7 L228.2,435.8 L230.6,436.9 L233,437.9 L235.4,438.8 L237.8,439.7 L240.2,440.6 L242.6,441.4 L245,442.2 L247.3,443 L249.7,443.7 L252.1,444.4 L254.5,445 L256.9,445.6 L259.3,446.2 L261.7,446.8 L264.1,447.3 L266.5,447.8 L268.8,448.3 L271.2,448.8 L273.6,449.2 L276,449.7" fill="none" stroke="#ff0000" stroke-width="2" stroke-linejoin="round" stroke-dasharray="4.5,2.5" stroke-linecap="round"/>
<path d="M85,458.4 L85.4,457.2 L85.8,456.1 L86.1,454.9 L86.5,453.8 L86.9,452.7 L87.3,451.7 L87.7,450.6 L88.1,449.6 L88.4,448.6 L88.8,447.6 L89.6,445.6 L90.3,443.7 L91.1,441.9 L91.9,440.2 L92.6,438.5 L93.4,436.9 L94.2,435.3 L94.9,433.8 L95.7,432.4 L96.5,431 L97.2,429.6 L98,428.3 L98.8,427 L99.5,425.8 L100.3,424.6 L101,423.5 L101.8,422.4 L102.6,421.4 L103.3,420.3 L104.1,419.4 L104.9,418.4 L105.6,417.5 L106.4,416.6 L107.2,415.8 L107.9,415 L108.7,414.2 L109.4,413.4 L110.2,412.7 L111,412 L111.7,411.3 L112.5,410.6 L113.3,410 L114,409.4 L114.8,408.8 L115.6,408.2 L116.3,407.7 L117.1,407.1 L117.9,406.6 L118.6,406.1 L119.4,405.6 L120.1,405.2 L120.9,404.7 L121.7,404.3 L122.4,403.9 L123.2,403.5 L124,403.1 L124.7,402.7 L125.5,402.4 L126.3,402 L127,401.7 L127.8,401.4 L128.5,401.1 L129.3,400.8 L130.1,400.5 L130.8,400.2 L131.6,399.9 L132.4,399.7 L133.1,399.4 L133.9,399.2 L134.7,399 L135.4,398.7 L136.2,398.5 L137,398.3 L137.7,398.1 L138.5,397.9 L139.2,397.7 L140,397.5 L140.8,397.4 L141.5,397.2 L142.3,397 L143.1,396.9 L143.8,396.7 L144.6,396.6 L145.4,396.4 L146.1,396.3 L146.9,396.2 L147.6,396.1 L148.4,395.9 L149.2,395.8 L149.9,395.7 L150.7,395.6 L151.5,395.5 L152.2,395.4 L153,395.3 L153.8,395.2 L154.5,395.1 L155.3,395 L156.1,394.9 L156.8,394.8 L157.6,394.8 L158.3,394.7 L159.1,394.6 L159.9,394.5 L160.6,394.5 L161.4,394.4 L162.2,395.4 L162.9,396.4 L163.7,397.3 L164.5,398.3 L165.2,399.2 L166,400.1 L166.7,401 L167.5,401.9 L168.3,402.7 L169,403.6 L170.9,405.7 L173.3,408.2 L175.7,410.5 L178.1,412.8 L180.5,414.9 L182.9,417 L185.3,419 L187.7,420.8 L190.1,422.6 L192.4,424.3 L194.8,425.9 L197.2,427.4 L199.6,428.9 L202,430.3 L204.4,431.6 L206.8,432.9 L209.2,434.1 L211.5,435.2 L213.9,436.3 L216.3,437.4 L218.7,438.4 L221.1,439.3 L223.5,440.2 L225.9,441.1 L228.2,441.9 L230.6,442.7 L233,443.4 L235.4,444.1 L237.8,444.8 L240.2,445.4 L242.6,446 L245,446.6 L247.3,447.2 L249.7,447.7 L252.1,448.2 L254.5,448.7 L256.9,449.2 L259.3,449.6 L261.7,450 L264.1,450.4 L266.5,450.8 L268.8,451.1 L271.2,451.5 L273.6,451.8 L276,452.1" fill="none" stroke="#ff0000" stroke-width="2" stroke-linejoin="round" stroke-dasharray="4.5,2.5" stroke-linecap="round"/>
<path d="M85,458.4 L85.4,457.7 L85.8,457.1 L86.1,456.4 L86.5,455.7 L86.9,455.1 L87.3,454.5 L87.7,453.9 L88.1,453.2 L88.4,452.6 L88.8,452 L89.6,450.9 L90.3,449.8 L91.1,448.7 L91.9,447.6 L92.6,446.6 L93.4,445.6 L94.2,444.6 L94.9,443.7 L95.7,442.8 L96.5,441.9 L97.2,441 L98,440.2 L98.8,439.4 L99.5,438.6 L100.3,437.8 L101,437.1 L101.8,436.4 L102.6,435.7 L103.3,435 L104.1,434.3 L104.9,433.7 L105.6,433.1 L106.4,432.5 L107.2,431.9 L107.9,431.3 L108.7,430.8 L109.4,430.3 L110.2,429.7 L111,429.2 L111.7,428.8 L112.5,428.3 L113.3,427.8 L114,427.4 L114.8,426.9 L115.6,426.5 L116.3,426.1 L117.1,425.7 L117.9,425.3 L118.6,425 L119.4,424.6 L120.1,424.3 L120.9,423.9 L121.7,423.6 L122.4,423.3 L123.2,423 L124,422.7 L124.7,422.4 L125.5,422.1 L126.3,421.8 L127,421.6 L127.8,421.3 L128.5,421 L129.3,420.8 L130.1,420.6 L130.8,420.3 L131.6,420.1 L132.4,419.9 L133.1,419.7 L133.9,419.5 L134.7,419.3 L135.4,419.1 L136.2,418.9 L137,418.7 L137.7,418.5 L138.5,418.4 L139.2,418.2 L140,418.1 L140.8,417.9 L141.5,417.7 L142.3,417.6 L143.1,417.5 L143.8,417.3 L144.6,417.2 L145.4,417.1 L146.1,416.9 L146.9,416.8 L147.6,416.7 L148.4,416.6 L149.2,416.5 L149.9,416.4 L150.7,416.2 L151.5,416.1 L152.2,416 L153,416 L153.8,415.9 L154.5,415.8 L155.3,415.7 L156.1,415.6 L156.8,415.5 L157.6,415.4 L158.3,415.4 L159.1,415.3 L159.9,415.2 L160.6,415.1 L161.4,415.1 L162.2,415.7 L162.9,416.4 L163.7,417 L164.5,417.7 L165.2,418.3 L166,418.9 L166.7,419.5 L167.5,420.1 L168.3,420.7 L169,421.2 L170.9,422.7 L173.3,424.3 L175.7,425.9 L178.1,427.5 L180.5,428.9 L182.9,430.3 L185.3,431.6 L187.7,432.9 L190.1,434.1 L192.4,435.2 L194.8,436.3 L197.2,437.3 L199.6,438.3 L202,439.3 L204.4,440.2 L206.8,441 L209.2,441.8 L211.5,442.6 L213.9,443.4 L216.3,444.1 L218.7,444.7 L221.1,445.4 L223.5,446 L225.9,446.6 L228.2,447.1 L230.6,447.7 L233,448.2 L235.4,448.7 L237.8,449.1 L240.2,449.5 L242.6,450 L245,450.4 L247.3,450.7 L249.7,451.1 L252.1,451.4 L254.5,451.8 L256.9,452.1 L259.3,452.4 L261.7,452.7 L264.1,452.9 L266.5,453.2 L268.8,453.4 L271.2,453.7 L273.6,453.9 L276,454.1" fill="none" stroke="#ff0000" stroke-width="2" stroke-linejoin="round" stroke-dasharray="4.5,2.5" stroke-linecap="round"/>
<path d="M85,458.4 L85.4,458.1 L85.8,457.8 L86.1,457.5 L86.5,457.2 L86.9,456.9 L87.3,456.6 L87.7,456.3 L88.1,456 L88.4,455.7 L88.8,455.4 L89.6,454.8 L90.3,454.3 L91.1,453.7 L91.9,453.2 L92.6,452.7 L93.4,452.2 L94.2,451.7 L94.9,451.2 L95.7,450.8 L96.5,450.3 L97.2,449.8 L98,449.4 L98.8,449 L99.5,448.5 L100.3,448.1 L101,447.7 L101.8,447.3 L102.6,446.9 L103.3,446.6 L104.1,446.2 L104.9,445.8 L105.6,445.5 L106.4,445.1 L107.2,444.8 L107.9,444.5 L108.7,444.1 L109.4,443.8 L110.2,443.5 L111,443.2 L111.7,442.9 L112.5,442.6 L113.3,442.3 L114,442.1 L114.8,441.8 L115.6,441.5 L116.3,441.3 L117.1,441 L117.9,440.8 L118.6,440.5 L119.4,440.3 L120.1,440 L120.9,439.8 L121.7,439.6 L122.4,439.4 L123.2,439.2 L124,438.9 L124.7,438.7 L125.5,438.5 L126.3,438.3 L127,438.2 L127.8,438 L128.5,437.8 L129.3,437.6 L130.1,437.4 L130.8,437.3 L131.6,437.1 L132.4,436.9 L133.1,436.8 L133.9,436.6 L134.7,436.5 L135.4,436.3 L136.2,436.2 L137,436 L137.7,435.9 L138.5,435.7 L139.2,435.6 L140,435.5 L140.8,435.3 L141.5,435.2 L142.3,435.1 L143.1,435 L143.8,434.9 L144.6,434.7 L145.4,434.6 L146.1,434.5 L146.9,434.4 L147.6,434.3 L148.4,434.2 L149.2,434.1 L149.9,434 L150.7,433.9 L151.5,433.8 L152.2,433.7 L153,433.6 L153.8,433.5 L154.5,433.4 L155.3,433.4 L156.1,433.3 L156.8,433.2 L157.6,433.1 L158.3,433 L159.1,433 L159.9,432.9 L160.6,432.8 L161.4,432.7 L162.2,433.1 L162.9,433.5 L163.7,433.9 L164.5,434.2 L165.2,434.6 L166,434.9 L166.7,435.3 L167.5,435.6 L168.3,435.9 L169,436.3 L170.9,437.1 L173.3,438 L175.7,438.9 L178.1,439.8 L180.5,440.7 L182.9,441.5 L185.3,442.2 L187.7,443 L190.1,443.7 L192.4,444.3 L194.8,445 L197.2,445.6 L199.6,446.1 L202,446.7 L204.4,447.2 L206.8,447.7 L209.2,448.2 L211.5,448.7 L213.9,449.1 L216.3,449.5 L218.7,449.9 L221.1,450.3 L223.5,450.7 L225.9,451 L228.2,451.3 L230.6,451.7 L233,452 L235.4,452.3 L237.8,452.5 L240.2,452.8 L242.6,453.1 L245,453.3 L247.3,453.5 L249.7,453.7 L252.1,454 L254.5,454.2 L256.9,454.3 L259.3,454.5 L261.7,454.7 L264.1,454.9 L266.5,455 L268.8,455.2 L271.2,455.3 L273.6,455.5 L276,455.6" fill="none" stroke="#ff0000" stroke-width="2" stroke-linejoin="round" stroke-dasharray="4.5,2.5" stroke-linecap="round"/>
<path d="M85,458.4 L85.4,433.9 L85.8,418.4 L86.1,408.4 L86.5,401.6 L86.9,396.9 L87.3,393.3 L87.7,390.5 L88.1,388.2 L88.4,386.2 L88.8,384.4 L89.6,381.2 L90.3,378.3 L91.1,375.7 L91.9,373.2 L92.6,371 L93.4,368.9 L94.2,366.9 L94.9,365.1 L95.7,363.4 L96.5,361.9 L97.2,360.4 L98,359 L98.8,357.8 L99.5,356.6 L100.3,355.5 L101,354.5 L101.8,353.5 L102.6,352.7 L103.3,351.8 L104.1,351.1 L104.9,350.4 L105.6,349.7 L106.4,349.1 L107.2,348.5 L107.9,348 L108.7,347.5 L109.4,347.1 L110.2,346.6 L111,346.2 L111.7,345.9 L112.5,345.5 L113.3,345.2 L114,344.9 L114.8,344.6 L115.6,344.4 L116.3,344.1 L117.1,343.9 L117.9,343.7 L118.6,343.5 L119.4,343.3 L120.1,343.2 L120.9,343 L121.7,342.9 L122.4,342.7 L123.2,342.6 L124,342.5 L124.7,342.4 L125.5,342.3 L126.3,342.2 L127,342.1 L127.8,342 L128.5,341.9 L129.3,341.9 L130.1,341.8 L130.8,341.8 L131.6,341.7 L132.4,341.6 L133.1,341.6 L133.9,341.6 L134.7,341.5 L135.4,341.5 L136.2,341.4 L137,341.4 L137.7,341.4 L138.5,341.3 L139.2,341.3 L140,341.3 L140.8,341.3 L141.5,341.2 L142.3,341.2 L143.1,341.2 L143.8,341.2 L144.6,341.2 L145.4,341.2 L146.1,341.1 L146.9,341.1 L147.6,341.1 L148.4,341.1 L149.2,341.1 L149.9,341.1 L150.7,341.1 L151.5,341.1 L152.2,341.1 L153,341 L153.8,341 L154.5,341 L155.3,341 L156.1,341 L156.8,341 L157.6,341 L158.3,341 L159.1,341 L159.9,341 L160.6,341 L161.4,341 L162.2,342.6 L162.9,344.2 L163.7,345.8 L164.5,347.4 L165.2,348.9 L166,350.4 L166.7,351.9 L167.5,353.4 L168.3,354.9 L169,356.3 L170.9,359.8 L173.3,364 L175.7,368 L178.1,371.9 L180.5,375.6 L182.9,379.1 L185.3,382.5 L187.7,385.7 L190.1,388.8 L192.4,391.8 L194.8,394.7 L197.2,397.4 L199.6,400 L202,402.5 L204.4,404.9 L206.8,407.1 L209.2,409.3 L211.5,411.4 L213.9,413.4 L216.3,415.4 L218.7,417.2 L221.1,419 L223.5,420.6 L225.9,422.2 L228.2,423.8 L230.6,425.3 L233,426.7 L235.4,428 L237.8,429.3 L240.2,430.6 L242.6,431.8 L245,432.9 L247.3,434 L249.7,435 L252.1,436 L254.5,437 L256.9,437.9 L259.3,438.8 L261.7,439.6 L264.1,440.4 L266.5,441.2 L268.8,441.9 L271.2,442.6 L273.6,443.3 L276,443.9" fill="none" stroke="#000" stroke-width="2" stroke-linejoin="round"/>
<path d="M85,458.4 L85.4,442.5 L85.8,430.9 L86.1,422.2 L86.5,415.7 L86.9,410.6 L87.3,406.7 L87.7,403.5 L88.1,400.9 L88.4,398.6 L88.8,396.7 L89.6,393.4 L90.3,390.7 L91.1,388.2 L91.9,386 L92.6,383.9 L93.4,382 L94.2,380.1 L94.9,378.4 L95.7,376.8 L96.5,375.3 L97.2,373.8 L98,372.5 L98.8,371.2 L99.5,370 L100.3,368.8 L101,367.8 L101.8,366.7 L102.6,365.8 L103.3,364.9 L104.1,364 L104.9,363.2 L105.6,362.4 L106.4,361.7 L107.2,361 L107.9,360.4 L108.7,359.7 L109.4,359.2 L110.2,358.6 L111,358.1 L111.7,357.6 L112.5,357.2 L113.3,356.7 L114,356.3 L114.8,355.9 L115.6,355.6 L116.3,355.2 L117.1,354.9 L117.9,354.6 L118.6,354.3 L119.4,354 L120.1,353.8 L120.9,353.5 L121.7,353.3 L122.4,353.1 L123.2,352.9 L124,352.7 L124.7,352.5 L125.5,352.3 L126.3,352.1 L127,352 L127.8,351.8 L128.5,351.7 L129.3,351.6 L130.1,351.4 L130.8,351.3 L131.6,351.2 L132.4,351.1 L133.1,351 L133.9,350.9 L134.7,350.8 L135.4,350.7 L136.2,350.7 L137,350.6 L137.7,350.5 L138.5,350.5 L139.2,350.4 L140,350.3 L140.8,350.3 L141.5,350.2 L142.3,350.2 L143.1,350.1 L143.8,350.1 L144.6,350 L145.4,350 L146.1,350 L146.9,349.9 L147.6,349.9 L148.4,349.9 L149.2,349.8 L149.9,349.8 L150.7,349.8 L151.5,349.8 L152.2,349.7 L153,349.7 L153.8,349.7 L154.5,349.7 L155.3,349.7 L156.1,349.6 L156.8,349.6 L157.6,349.6 L158.3,349.6 L159.1,349.6 L159.9,349.6 L160.6,349.5 L161.4,349.5 L162.2,351.1 L162.9,352.6 L163.7,354.1 L164.5,355.6 L165.2,357.1 L166,358.5 L166.7,359.9 L167.5,361.4 L168.3,362.7 L169,364.1 L170.9,367.4 L173.3,371.4 L175.7,375.2 L178.1,378.9 L180.5,382.4 L182.9,385.7 L185.3,388.9 L187.7,391.9 L190.1,394.9 L192.4,397.7 L194.8,400.3 L197.2,402.9 L199.6,405.3 L202,407.6 L204.4,409.9 L206.8,412 L209.2,414 L211.5,416 L213.9,417.8 L216.3,419.6 L218.7,421.3 L221.1,422.9 L223.5,424.5 L225.9,426 L228.2,427.4 L230.6,428.8 L233,430.1 L235.4,431.3 L237.8,432.5 L240.2,433.6 L242.6,434.7 L245,435.8 L247.3,436.8 L249.7,437.7 L252.1,438.6 L254.5,439.5 L256.9,440.3 L259.3,441.1 L261.7,441.9 L264.1,442.6 L266.5,443.3 L268.8,443.9 L271.2,444.6 L273.6,445.2 L276,445.8" fill="none" stroke="#000" stroke-width="2" stroke-linejoin="round"/>
<path d="M85,458.4 L85.4,437.9 L85.8,429.2 L86.1,425 L86.5,422.5 L86.9,420.7 L87.3,419.1 L87.7,417.6 L88.1,416.3 L88.4,414.9 L88.8,413.6 L89.6,411.1 L90.3,408.7 L91.1,406.4 L91.9,404.2 L92.6,402.2 L93.4,400.2 L94.2,398.3 L94.9,396.5 L95.7,394.8 L96.5,393.2 L97.2,391.6 L98,390.1 L98.8,388.7 L99.5,387.4 L100.3,386.1 L101,384.9 L101.8,383.7 L102.6,382.6 L103.3,381.6 L104.1,380.6 L104.9,379.6 L105.6,378.7 L106.4,377.8 L107.2,377 L107.9,376.2 L108.7,375.5 L109.4,374.8 L110.2,374.1 L111,373.4 L111.7,372.8 L112.5,372.2 L113.3,371.7 L114,371.1 L114.8,370.6 L115.6,370.1 L116.3,369.7 L117.1,369.2 L117.9,368.8 L118.6,368.4 L119.4,368 L120.1,367.7 L120.9,367.3 L121.7,367 L122.4,366.7 L123.2,366.4 L124,366.1 L124.7,365.8 L125.5,365.6 L126.3,365.3 L127,365.1 L127.8,364.8 L128.5,364.6 L129.3,364.4 L130.1,364.2 L130.8,364.1 L131.6,363.9 L132.4,363.7 L133.1,363.6 L133.9,363.4 L134.7,363.3 L135.4,363.1 L136.2,363 L137,362.9 L137.7,362.7 L138.5,362.6 L139.2,362.5 L140,362.4 L140.8,362.3 L141.5,362.2 L142.3,362.1 L143.1,362.1 L143.8,362 L144.6,361.9 L145.4,361.8 L146.1,361.7 L146.9,361.7 L147.6,361.6 L148.4,361.6 L149.2,361.5 L149.9,361.4 L150.7,361.4 L151.5,361.3 L152.2,361.3 L153,361.2 L153.8,361.2 L154.5,361.2 L155.3,361.1 L156.1,361.1 L156.8,361.1 L157.6,361 L158.3,361 L159.1,361 L159.9,360.9 L160.6,360.9 L161.4,360.9 L162.2,362.3 L162.9,363.7 L163.7,365.1 L164.5,366.4 L165.2,367.8 L166,369.1 L166.7,370.4 L167.5,371.7 L168.3,373 L169,374.2 L170.9,377.3 L173.3,380.9 L175.7,384.4 L178.1,387.7 L180.5,390.9 L182.9,393.9 L185.3,396.8 L187.7,399.6 L190.1,402.2 L192.4,404.8 L194.8,407.2 L197.2,409.5 L199.6,411.7 L202,413.8 L204.4,415.8 L206.8,417.7 L209.2,419.5 L211.5,421.3 L213.9,422.9 L216.3,424.5 L218.7,426.1 L221.1,427.5 L223.5,428.9 L225.9,430.2 L228.2,431.5 L230.6,432.7 L233,433.9 L235.4,435 L237.8,436 L240.2,437 L242.6,438 L245,438.9 L247.3,439.8 L249.7,440.6 L252.1,441.4 L254.5,442.2 L256.9,442.9 L259.3,443.6 L261.7,444.3 L264.1,444.9 L266.5,445.5 L268.8,446.1 L271.2,446.6 L273.6,447.2 L276,447.7" fill="none" stroke="#000" stroke-width="2" stroke-linejoin="round"/>
<path d="M85,458.4 L85.4,455.5 L85.8,452.9 L86.1,450.6 L86.5,448.5 L86.9,446.6 L87.3,444.8 L87.7,443 L88.1,441.4 L88.4,439.9 L88.8,438.4 L89.6,435.6 L90.3,432.9 L91.1,430.4 L91.9,428.1 L92.6,425.8 L93.4,423.6 L94.2,421.6 L94.9,419.6 L95.7,417.7 L96.5,415.9 L97.2,414.2 L98,412.5 L98.8,410.9 L99.5,409.4 L100.3,408 L101,406.6 L101.8,405.3 L102.6,404 L103.3,402.8 L104.1,401.6 L104.9,400.5 L105.6,399.4 L106.4,398.4 L107.2,397.4 L107.9,396.5 L108.7,395.6 L109.4,394.7 L110.2,393.9 L111,393.1 L111.7,392.3 L112.5,391.6 L113.3,390.9 L114,390.3 L114.8,389.6 L115.6,389 L116.3,388.5 L117.1,387.9 L117.9,387.4 L118.6,386.9 L119.4,386.4 L120.1,385.9 L120.9,385.5 L121.7,385 L122.4,384.6 L123.2,384.2 L124,383.8 L124.7,383.5 L125.5,383.1 L126.3,382.8 L127,382.5 L127.8,382.2 L128.5,381.9 L129.3,381.6 L130.1,381.4 L130.8,381.1 L131.6,380.9 L132.4,380.6 L133.1,380.4 L133.9,380.2 L134.7,380 L135.4,379.8 L136.2,379.6 L137,379.4 L137.7,379.3 L138.5,379.1 L139.2,378.9 L140,378.8 L140.8,378.6 L141.5,378.5 L142.3,378.4 L143.1,378.3 L143.8,378.1 L144.6,378 L145.4,377.9 L146.1,377.8 L146.9,377.7 L147.6,377.6 L148.4,377.5 L149.2,377.4 L149.9,377.3 L150.7,377.2 L151.5,377.2 L152.2,377.1 L153,377 L153.8,377 L154.5,376.9 L155.3,376.8 L156.1,376.8 L156.8,376.7 L157.6,376.7 L158.3,376.6 L159.1,376.6 L159.9,376.5 L160.6,376.5 L161.4,376.4 L162.2,377.6 L162.9,378.9 L163.7,380.1 L164.5,381.2 L165.2,382.4 L166,383.6 L166.7,384.7 L167.5,385.8 L168.3,386.9 L169,388 L170.9,390.6 L173.3,393.7 L175.7,396.7 L178.1,399.6 L180.5,402.3 L182.9,404.9 L185.3,407.4 L187.7,409.8 L190.1,412 L192.4,414.2 L194.8,416.2 L197.2,418.2 L199.6,420.1 L202,421.8 L204.4,423.5 L206.8,425.1 L209.2,426.7 L211.5,428.2 L213.9,429.6 L216.3,430.9 L218.7,432.2 L221.1,433.4 L223.5,434.6 L225.9,435.7 L228.2,436.7 L230.6,437.7 L233,438.7 L235.4,439.6 L237.8,440.5 L240.2,441.3 L242.6,442.1 L245,442.8 L247.3,443.6 L249.7,444.3 L252.1,444.9 L254.5,445.5 L256.9,446.1 L259.3,446.7 L261.7,447.2 L264.1,447.8 L266.5,448.3 L268.8,448.7 L271.2,449.2 L273.6,449.6 L276,450" fill="none" stroke="#000" stroke-width="2" stroke-linejoin="round"/>
<path d="M85,458.4 L85.4,456.8 L85.8,455.4 L86.1,453.9 L86.5,452.5 L86.9,451.2 L87.3,449.9 L87.7,448.6 L88.1,447.4 L88.4,446.3 L88.8,445.1 L89.6,443 L90.3,441 L91.1,439.1 L91.9,437.4 L92.6,435.7 L93.4,434.1 L94.2,432.7 L94.9,431.3 L95.7,429.9 L96.5,428.7 L97.2,427.5 L98,426.4 L98.8,425.3 L99.5,424.3 L100.3,423.3 L101,422.3 L101.8,421.4 L102.6,420.6 L103.3,419.8 L104.1,419 L104.9,418.2 L105.6,417.5 L106.4,416.8 L107.2,416.1 L107.9,415.5 L108.7,414.8 L109.4,414.2 L110.2,413.6 L111,413.1 L111.7,412.5 L112.5,412 L113.3,411.5 L114,411 L114.8,410.5 L115.6,410 L116.3,409.6 L117.1,409.2 L117.9,408.7 L118.6,408.3 L119.4,407.9 L120.1,407.5 L120.9,407.2 L121.7,406.8 L122.4,406.5 L123.2,406.1 L124,405.8 L124.7,405.5 L125.5,405.1 L126.3,404.8 L127,404.5 L127.8,404.3 L128.5,404 L129.3,403.7 L130.1,403.4 L130.8,403.2 L131.6,402.9 L132.4,402.7 L133.1,402.5 L133.9,402.2 L134.7,402 L135.4,401.8 L136.2,401.6 L137,401.4 L137.7,401.2 L138.5,401 L139.2,400.8 L140,400.6 L140.8,400.4 L141.5,400.3 L142.3,400.1 L143.1,399.9 L143.8,399.8 L144.6,399.6 L145.4,399.5 L146.1,399.3 L146.9,399.2 L147.6,399 L148.4,398.9 L149.2,398.8 L149.9,398.6 L150.7,398.5 L151.5,398.4 L152.2,398.3 L153,398.2 L153.8,398.1 L154.5,397.9 L155.3,397.8 L156.1,397.7 L156.8,397.6 L157.6,397.5 L158.3,397.5 L159.1,397.4 L159.9,397.3 L160.6,397.2 L161.4,397.1 L162.2,398 L162.9,399 L163.7,399.9 L164.5,400.8 L165.2,401.7 L166,402.5 L166.7,403.4 L167.5,404.2 L168.3,405.1 L169,405.9 L170.9,407.9 L173.3,410.3 L175.7,412.5 L178.1,414.7 L180.5,416.8 L182.9,418.7 L185.3,420.6 L187.7,422.4 L190.1,424.1 L192.4,425.7 L194.8,427.3 L197.2,428.7 L199.6,430.1 L202,431.5 L204.4,432.7 L206.8,433.9 L209.2,435.1 L211.5,436.2 L213.9,437.3 L216.3,438.3 L218.7,439.2 L221.1,440.1 L223.5,441 L225.9,441.8 L228.2,442.6 L230.6,443.3 L233,444 L235.4,444.7 L237.8,445.4 L240.2,446 L242.6,446.6 L245,447.1 L247.3,447.7 L249.7,448.2 L252.1,448.6 L254.5,449.1 L256.9,449.5 L259.3,450 L261.7,450.4 L264.1,450.7 L266.5,451.1 L268.8,451.4 L271.2,451.8 L273.6,452.1 L276,452.4" fill="none" stroke="#000" stroke-width="2" stroke-linejoin="round"/>
<path d="M85,458.4 L85.4,457.5 L85.8,456.7 L86.1,455.8 L86.5,455.1 L86.9,454.3 L87.3,453.6 L87.7,452.9 L88.1,452.3 L88.4,451.6 L88.8,451 L89.6,449.9 L90.3,448.8 L91.1,447.8 L91.9,446.8 L92.6,445.9 L93.4,445 L94.2,444.2 L94.9,443.4 L95.7,442.7 L96.5,441.9 L97.2,441.2 L98,440.5 L98.8,439.9 L99.5,439.2 L100.3,438.6 L101,438 L101.8,437.4 L102.6,436.9 L103.3,436.3 L104.1,435.8 L104.9,435.2 L105.6,434.7 L106.4,434.2 L107.2,433.7 L107.9,433.3 L108.7,432.8 L109.4,432.4 L110.2,431.9 L111,431.5 L111.7,431 L112.5,430.6 L113.3,430.2 L114,429.8 L114.8,429.4 L115.6,429.1 L116.3,428.7 L117.1,428.3 L117.9,428 L118.6,427.6 L119.4,427.3 L120.1,427 L120.9,426.6 L121.7,426.3 L122.4,426 L123.2,425.7 L124,425.4 L124.7,425.1 L125.5,424.8 L126.3,424.6 L127,424.3 L127.8,424 L128.5,423.8 L129.3,423.5 L130.1,423.3 L130.8,423 L131.6,422.8 L132.4,422.6 L133.1,422.3 L133.9,422.1 L134.7,421.9 L135.4,421.7 L136.2,421.5 L137,421.3 L137.7,421.1 L138.5,420.9 L139.2,420.7 L140,420.5 L140.8,420.3 L141.5,420.1 L142.3,420 L143.1,419.8 L143.8,419.6 L144.6,419.5 L145.4,419.3 L146.1,419.2 L146.9,419 L147.6,418.8 L148.4,418.7 L149.2,418.6 L149.9,418.4 L150.7,418.3 L151.5,418.2 L152.2,418 L153,417.9 L153.8,417.8 L154.5,417.6 L155.3,417.5 L156.1,417.4 L156.8,417.3 L157.6,417.2 L158.3,417.1 L159.1,417 L159.9,416.9 L160.6,416.8 L161.4,416.7 L162.2,417.3 L162.9,417.9 L163.7,418.5 L164.5,419.2 L165.2,419.8 L166,420.3 L166.7,420.9 L167.5,421.5 L168.3,422.1 L169,422.6 L170.9,424 L173.3,425.6 L175.7,427.1 L178.1,428.6 L180.5,430 L182.9,431.3 L185.3,432.6 L187.7,433.8 L190.1,435 L192.4,436.1 L194.8,437.1 L197.2,438.1 L199.6,439.1 L202,440 L204.4,440.8 L206.8,441.7 L209.2,442.5 L211.5,443.2 L213.9,443.9 L216.3,444.6 L218.7,445.3 L221.1,445.9 L223.5,446.5 L225.9,447 L228.2,447.6 L230.6,448.1 L233,448.5 L235.4,449 L237.8,449.5 L240.2,449.9 L242.6,450.3 L245,450.7 L247.3,451 L249.7,451.4 L252.1,451.7 L254.5,452 L256.9,452.3 L259.3,452.6 L261.7,452.9 L264.1,453.1 L266.5,453.4 L268.8,453.6 L271.2,453.8 L273.6,454.1 L276,454.3" fill="none" stroke="#000" stroke-width="2" stroke-linejoin="round"/>
<path d="M85,458.4 L85.4,458.1 L85.8,457.9 L86.1,457.6 L86.5,457.3 L86.9,457.1 L87.3,456.8 L87.7,456.6 L88.1,456.3 L88.4,456.1 L88.8,455.8 L89.6,455.3 L90.3,454.8 L91.1,454.4 L91.9,453.9 L92.6,453.4 L93.4,453 L94.2,452.5 L94.9,452.1 L95.7,451.7 L96.5,451.3 L97.2,450.9 L98,450.4 L98.8,450 L99.5,449.7 L100.3,449.3 L101,448.9 L101.8,448.5 L102.6,448.2 L103.3,447.8 L104.1,447.4 L104.9,447.1 L105.6,446.8 L106.4,446.4 L107.2,446.1 L107.9,445.8 L108.7,445.4 L109.4,445.1 L110.2,444.8 L111,444.5 L111.7,444.2 L112.5,443.9 L113.3,443.7 L114,443.4 L114.8,443.1 L115.6,442.8 L116.3,442.6 L117.1,442.3 L117.9,442 L118.6,441.8 L119.4,441.5 L120.1,441.3 L120.9,441 L121.7,440.8 L122.4,440.6 L123.2,440.4 L124,440.1 L124.7,439.9 L125.5,439.7 L126.3,439.5 L127,439.3 L127.8,439.1 L128.5,438.9 L129.3,438.7 L130.1,438.5 L130.8,438.3 L131.6,438.1 L132.4,437.9 L133.1,437.7 L133.9,437.5 L134.7,437.4 L135.4,437.2 L136.2,437 L137,436.9 L137.7,436.7 L138.5,436.5 L139.2,436.4 L140,436.2 L140.8,436.1 L141.5,435.9 L142.3,435.8 L143.1,435.6 L143.8,435.5 L144.6,435.3 L145.4,435.2 L146.1,435.1 L146.9,434.9 L147.6,434.8 L148.4,434.7 L149.2,434.5 L149.9,434.4 L150.7,434.3 L151.5,434.2 L152.2,434.1 L153,433.9 L153.8,433.8 L154.5,433.7 L155.3,433.6 L156.1,433.5 L156.8,433.4 L157.6,433.3 L158.3,433.2 L159.1,433.1 L159.9,433 L160.6,432.9 L161.4,432.8 L162.2,433.2 L162.9,433.5 L163.7,433.9 L164.5,434.3 L165.2,434.6 L166,435 L166.7,435.3 L167.5,435.6 L168.3,436 L169,436.3 L170.9,437.1 L173.3,438.1 L175.7,439 L178.1,439.9 L180.5,440.7 L182.9,441.5 L185.3,442.3 L187.7,443 L190.1,443.7 L192.4,444.3 L194.8,445 L197.2,445.6 L199.6,446.2 L202,446.7 L204.4,447.2 L206.8,447.7 L209.2,448.2 L211.5,448.7 L213.9,449.1 L216.3,449.5 L218.7,449.9 L221.1,450.3 L223.5,450.7 L225.9,451 L228.2,451.4 L230.6,451.7 L233,452 L235.4,452.3 L237.8,452.5 L240.2,452.8 L242.6,453.1 L245,453.3 L247.3,453.5 L249.7,453.8 L252.1,454 L254.5,454.2 L256.9,454.4 L259.3,454.5 L261.7,454.7 L264.1,454.9 L266.5,455 L268.8,455.2 L271.2,455.3 L273.6,455.5 L276,455.6" fill="none" stroke="#000" stroke-width="2" stroke-linejoin="round"/>
<text transform="translate(0,348.8) scale(1,1.04)" x="29.8" y="0" font-size="21.00" fill="#000">200</text>
<text transform="translate(0,378.2) scale(1,1.04)" x="29.8" y="0" font-size="21.00" fill="#000">150</text>
<text transform="translate(0,407.6) scale(1,1.04)" x="29.8" y="0" font-size="21.00" fill="#000">100</text>
<text transform="translate(0,437.1) scale(1,1.04)" x="41.5" y="0" font-size="21.00" fill="#000">50</text>
<text transform="translate(0,466.5) scale(1,1.04)" x="53.1" y="0" font-size="21.00" fill="#000">0</text>
<text transform="translate(0,501) scale(1,1.04)" x="78.7" y="0" font-size="21.50" fill="#000">0</text>
<text transform="translate(0,501) scale(1,1.04)" x="162.3" y="0" font-size="21.50" fill="#000">500</text>
<text transform="translate(0,501) scale(1,1.04)" x="251.4" y="0" font-size="21.50" fill="#000">1000</text>
<text transform="translate(0,523.2) scale(1,1.04)" x="142.7" y="0" font-size="21.53" fill="#000">Time (s)</text>
<text transform="translate(21.9,0) rotate(-90) scale(1,1.04)" x="-478.1" y="0" font-size="21.94" fill="#000">Response (RU)</text>
<text transform="translate(0,353.6) scale(1,1.04)" x="201.3" y="0" font-size="21.00" fill="#000">K</text>
<text transform="translate(0,358.6) scale(1,1.04)" x="216.1" y="0" font-size="13.30" fill="#000">D</text>
<text transform="translate(0,353.6) scale(1,1.04)" x="232.2" y="0" font-size="22.03" fill="#000">~ 49 nM</text>
<path d="M66.6,571.8 H82.6 V706" fill="none" stroke="#000" stroke-width="2.0"/>
<line x1="66.6" y1="660.5" x2="82.6" y2="660.5" stroke="#000" stroke-width="2.0" />
<line x1="66.6" y1="630.9" x2="82.6" y2="630.9" stroke="#000" stroke-width="2.0" />
<line x1="66.6" y1="601.4" x2="82.6" y2="601.4" stroke="#000" stroke-width="2.0" />
<path d="M66.6,690 H274.3 V706" fill="none" stroke="#000" stroke-width="2.0"/>
<line x1="178.3" y1="690" x2="178.3" y2="706" stroke="#000" stroke-width="2.0" />
<path d="M82.3,690 L82.7,688.2 L83.1,686.4 L83.5,684.6 L83.8,682.8 L84.2,681.1 L84.6,679.4 L85,677.8 L85.4,676.1 L85.8,674.5 L86.1,673 L86.9,669.9 L87.7,666.9 L88.4,664.1 L89.2,661.3 L90,658.6 L90.7,656 L91.5,653.5 L92.3,651.1 L93.1,648.7 L93.8,646.5 L94.6,644.3 L95.4,642.2 L96.1,640.1 L96.9,638.1 L97.7,636.2 L98.4,634.4 L99.2,632.6 L100,630.9 L100.7,629.2 L101.5,627.6 L102.3,626.1 L103,624.5 L103.8,623.1 L104.6,621.7 L105.3,620.3 L106.1,619 L106.9,617.7 L107.6,616.5 L108.4,615.3 L109.2,614.2 L109.9,613.1 L110.7,612 L111.5,611 L112.3,610 L113,609 L113.8,608.1 L114.6,607.2 L115.3,606.3 L116.1,605.4 L116.9,604.6 L117.6,603.8 L118.4,603.1 L119.2,602.3 L119.9,601.6 L120.7,600.9 L121.5,600.3 L122.2,599.6 L123,599 L123.8,598.4 L124.5,597.8 L125.3,597.3 L126.1,596.7 L126.8,596.2 L127.6,595.7 L128.4,595.2 L129.1,594.7 L129.9,594.3 L130.7,593.8 L131.5,593.4 L132.2,593 L133,592.6 L133.8,592.2 L134.5,591.8 L135.3,591.5 L136.1,591.1 L136.8,590.8 L137.6,590.5 L138.4,590.1 L139.1,589.8 L139.9,589.5 L140.7,589.3 L141.4,589 L142.2,588.7 L143,588.5 L143.7,588.2 L144.5,588 L145.3,587.7 L146,587.5 L146.8,587.3 L147.6,587.1 L148.3,586.9 L149.1,586.7 L149.9,586.5 L150.7,586.3 L151.4,586.1 L152.2,586 L153,585.8 L153.7,585.6 L154.5,585.5 L155.3,585.3 L156,585.2 L156.8,585.1 L157.6,584.9 L158.3,584.8 L159.1,584.7 L159.9,590 L160.6,591.7 L161.4,592.3 L162.2,592.6 L162.9,592.8 L163.7,592.9 L164.5,593.1 L165.2,593.2 L166,593.4 L166.8,593.5 L168.7,593.9 L171.1,594.3 L173.5,594.8 L175.9,595.2 L178.3,595.7 L180.7,596.1 L183.1,596.5 L185.5,597 L187.9,597.4 L190.3,597.9 L192.7,598.3 L195.1,598.7 L197.5,599.1 L199.9,599.6 L202.3,600 L204.7,600.4 L207.1,600.8 L209.5,601.3 L211.9,601.7 L214.3,602.1 L216.7,602.5 L219.1,602.9 L221.5,603.3 L223.9,603.7 L226.3,604.1 L228.7,604.5 L231.1,604.9 L233.5,605.3 L235.9,605.7 L238.3,606.1 L240.7,606.5 L243.1,606.9 L245.5,607.3 L247.9,607.7 L250.3,608.1 L252.7,608.5 L255.1,608.8 L257.5,609.2 L259.9,609.6 L262.3,610 L264.7,610.3 L267.1,610.7 L269.5,611.1 L271.9,611.5 L274.3,611.8" fill="none" stroke="#ff0000" stroke-width="2" stroke-linejoin="round" stroke-dasharray="4.5,2.5" stroke-linecap="round"/>
<path d="M82.3,690 L82.7,689.3 L83.1,688.6 L83.5,687.8 L83.8,687.1 L84.2,686.3 L84.6,685.6 L85,684.8 L85.4,684 L85.8,683.2 L86.1,682.4 L86.9,680.8 L87.7,679.2 L88.4,677.6 L89.2,676 L90,674.4 L90.7,672.8 L91.5,671.2 L92.3,669.6 L93.1,668 L93.8,666.5 L94.6,664.9 L95.4,663.4 L96.1,661.9 L96.9,660.5 L97.7,659 L98.4,657.6 L99.2,656.2 L100,654.8 L100.7,653.5 L101.5,652.2 L102.3,650.9 L103,649.6 L103.8,648.3 L104.6,647.1 L105.3,645.9 L106.1,644.7 L106.9,643.6 L107.6,642.5 L108.4,641.3 L109.2,640.3 L109.9,639.2 L110.7,638.2 L111.5,637.1 L112.3,636.1 L113,635.1 L113.8,634.2 L114.6,633.2 L115.3,632.3 L116.1,631.4 L116.9,630.5 L117.6,629.7 L118.4,628.8 L119.2,628 L119.9,627.2 L120.7,626.4 L121.5,625.6 L122.2,624.8 L123,624.1 L123.8,623.3 L124.5,622.6 L125.3,621.9 L126.1,621.2 L126.8,620.5 L127.6,619.8 L128.4,619.2 L129.1,618.5 L129.9,617.9 L130.7,617.3 L131.5,616.7 L132.2,616.1 L133,615.5 L133.8,614.9 L134.5,614.4 L135.3,613.8 L136.1,613.3 L136.8,612.8 L137.6,612.2 L138.4,611.7 L139.1,611.2 L139.9,610.7 L140.7,610.3 L141.4,609.8 L142.2,609.3 L143,608.9 L143.7,608.4 L144.5,608 L145.3,607.6 L146,607.2 L146.8,606.7 L147.6,606.3 L148.3,605.9 L149.1,605.6 L149.9,605.2 L150.7,604.8 L151.4,604.4 L152.2,604.1 L153,603.7 L153.7,603.4 L154.5,603 L155.3,602.7 L156,602.4 L156.8,602.1 L157.6,601.7 L158.3,601.4 L159.1,601.1 L159.9,606.4 L160.6,608.1 L161.4,608.7 L162.2,608.9 L162.9,609.1 L163.7,609.2 L164.5,609.4 L165.2,609.5 L166,609.6 L166.8,609.7 L168.7,610 L171.1,610.4 L173.5,610.8 L175.9,611.1 L178.3,611.5 L180.7,611.9 L183.1,612.2 L185.5,612.6 L187.9,612.9 L190.3,613.3 L192.7,613.7 L195.1,614 L197.5,614.4 L199.9,614.7 L202.3,615.1 L204.7,615.4 L207.1,615.8 L209.5,616.1 L211.9,616.5 L214.3,616.8 L216.7,617.1 L219.1,617.5 L221.5,617.8 L223.9,618.1 L226.3,618.5 L228.7,618.8 L231.1,619.1 L233.5,619.5 L235.9,619.8 L238.3,620.1 L240.7,620.5 L243.1,620.8 L245.5,621.1 L247.9,621.4 L250.3,621.7 L252.7,622.1 L255.1,622.4 L257.5,622.7 L259.9,623 L262.3,623.3 L264.7,623.6 L267.1,623.9 L269.5,624.2 L271.9,624.5 L274.3,624.8" fill="none" stroke="#ff0000" stroke-width="2" stroke-linejoin="round" stroke-dasharray="4.5,2.5" stroke-linecap="round"/>
<path d="M82.3,690 L82.7,689.6 L83.1,689.2 L83.5,688.8 L83.8,688.4 L84.2,687.9 L84.6,687.5 L85,687 L85.4,686.5 L85.8,686 L86.1,685.5 L86.9,684.5 L87.7,683.4 L88.4,682.3 L89.2,681.2 L90,680.1 L90.7,679 L91.5,677.8 L92.3,676.7 L93.1,675.6 L93.8,674.5 L94.6,673.4 L95.4,672.3 L96.1,671.2 L96.9,670.1 L97.7,669 L98.4,668 L99.2,666.9 L100,665.9 L100.7,664.9 L101.5,663.9 L102.3,662.9 L103,662 L103.8,661 L104.6,660.1 L105.3,659.2 L106.1,658.2 L106.9,657.4 L107.6,656.5 L108.4,655.6 L109.2,654.8 L109.9,654 L110.7,653.1 L111.5,652.3 L112.3,651.6 L113,650.8 L113.8,650 L114.6,649.3 L115.3,648.5 L116.1,647.8 L116.9,647.1 L117.6,646.4 L118.4,645.7 L119.2,645.1 L119.9,644.4 L120.7,643.8 L121.5,643.1 L122.2,642.5 L123,641.9 L123.8,641.3 L124.5,640.7 L125.3,640.1 L126.1,639.5 L126.8,639 L127.6,638.4 L128.4,637.9 L129.1,637.3 L129.9,636.8 L130.7,636.3 L131.5,635.8 L132.2,635.2 L133,634.8 L133.8,634.3 L134.5,633.8 L135.3,633.3 L136.1,632.8 L136.8,632.4 L137.6,631.9 L138.4,631.5 L139.1,631.1 L139.9,630.6 L140.7,630.2 L141.4,629.8 L142.2,629.4 L143,629 L143.7,628.6 L144.5,628.2 L145.3,627.8 L146,627.4 L146.8,627.1 L147.6,626.7 L148.3,626.3 L149.1,626 L149.9,625.6 L150.7,625.3 L151.4,625 L152.2,624.6 L153,624.3 L153.7,624 L154.5,623.7 L155.3,623.3 L156,623 L156.8,622.7 L157.6,622.4 L158.3,622.1 L159.1,621.9 L159.9,625.7 L160.6,626.9 L161.4,627.3 L162.2,627.5 L162.9,627.7 L163.7,627.7 L164.5,627.8 L165.2,627.9 L166,628 L166.8,628.1 L168.7,628.3 L171.1,628.6 L173.5,628.9 L175.9,629.1 L178.3,629.4 L180.7,629.7 L183.1,629.9 L185.5,630.2 L187.9,630.4 L190.3,630.7 L192.7,631 L195.1,631.2 L197.5,631.5 L199.9,631.7 L202.3,632 L204.7,632.2 L207.1,632.5 L209.5,632.7 L211.9,633 L214.3,633.2 L216.7,633.5 L219.1,633.7 L221.5,634 L223.9,634.2 L226.3,634.5 L228.7,634.7 L231.1,634.9 L233.5,635.2 L235.9,635.4 L238.3,635.7 L240.7,635.9 L243.1,636.1 L245.5,636.4 L247.9,636.6 L250.3,636.8 L252.7,637.1 L255.1,637.3 L257.5,637.5 L259.9,637.8 L262.3,638 L264.7,638.2 L267.1,638.4 L269.5,638.7 L271.9,638.9 L274.3,639.1" fill="none" stroke="#ff0000" stroke-width="2" stroke-linejoin="round" stroke-dasharray="4.5,2.5" stroke-linecap="round"/>
<path d="M82.3,690 L82.7,689.8 L83.1,689.6 L83.5,689.3 L83.8,689.1 L84.2,688.8 L84.6,688.6 L85,688.3 L85.4,688 L85.8,687.7 L86.1,687.4 L86.9,686.8 L87.7,686.1 L88.4,685.4 L89.2,684.7 L90,684 L90.7,683.3 L91.5,682.6 L92.3,681.9 L93.1,681.1 L93.8,680.4 L94.6,679.7 L95.4,679 L96.1,678.3 L96.9,677.5 L97.7,676.8 L98.4,676.1 L99.2,675.4 L100,674.7 L100.7,674.1 L101.5,673.4 L102.3,672.7 L103,672.1 L103.8,671.4 L104.6,670.8 L105.3,670.2 L106.1,669.6 L106.9,668.9 L107.6,668.3 L108.4,667.8 L109.2,667.2 L109.9,666.6 L110.7,666 L111.5,665.5 L112.3,664.9 L113,664.4 L113.8,663.8 L114.6,663.3 L115.3,662.8 L116.1,662.3 L116.9,661.8 L117.6,661.3 L118.4,660.8 L119.2,660.3 L119.9,659.8 L120.7,659.4 L121.5,658.9 L122.2,658.5 L123,658 L123.8,657.6 L124.5,657.1 L125.3,656.7 L126.1,656.3 L126.8,655.9 L127.6,655.4 L128.4,655 L129.1,654.6 L129.9,654.2 L130.7,653.8 L131.5,653.5 L132.2,653.1 L133,652.7 L133.8,652.3 L134.5,652 L135.3,651.6 L136.1,651.2 L136.8,650.9 L137.6,650.5 L138.4,650.2 L139.1,649.9 L139.9,649.5 L140.7,649.2 L141.4,648.9 L142.2,648.5 L143,648.2 L143.7,647.9 L144.5,647.6 L145.3,647.3 L146,647 L146.8,646.7 L147.6,646.4 L148.3,646.1 L149.1,645.8 L149.9,645.5 L150.7,645.3 L151.4,645 L152.2,644.7 L153,644.4 L153.7,644.2 L154.5,643.9 L155.3,643.7 L156,643.4 L156.8,643.1 L157.6,642.9 L158.3,642.6 L159.1,642.4 L159.9,644.5 L160.6,645.1 L161.4,645.4 L162.2,645.5 L162.9,645.5 L163.7,645.6 L164.5,645.7 L165.2,645.7 L166,645.8 L166.8,645.8 L168.7,646 L171.1,646.2 L173.5,646.3 L175.9,646.5 L178.3,646.7 L180.7,646.9 L183.1,647.1 L185.5,647.2 L187.9,647.4 L190.3,647.6 L192.7,647.8 L195.1,647.9 L197.5,648.1 L199.9,648.3 L202.3,648.5 L204.7,648.6 L207.1,648.8 L209.5,649 L211.9,649.1 L214.3,649.3 L216.7,649.5 L219.1,649.6 L221.5,649.8 L223.9,650 L226.3,650.1 L228.7,650.3 L231.1,650.5 L233.5,650.6 L235.9,650.8 L238.3,650.9 L240.7,651.1 L243.1,651.3 L245.5,651.4 L247.9,651.6 L250.3,651.7 L252.7,651.9 L255.1,652.1 L257.5,652.2 L259.9,652.4 L262.3,652.5 L264.7,652.7 L267.1,652.8 L269.5,653 L271.9,653.1 L274.3,653.3" fill="none" stroke="#ff0000" stroke-width="2" stroke-linejoin="round" stroke-dasharray="4.5,2.5" stroke-linecap="round"/>
<path d="M82.3,690 L82.7,689.9 L83.1,689.8 L83.5,689.6 L83.8,689.5 L84.2,689.3 L84.6,689.2 L85,689 L85.4,688.9 L85.8,688.7 L86.1,688.5 L86.9,688.2 L87.7,687.8 L88.4,687.4 L89.2,687 L90,686.6 L90.7,686.2 L91.5,685.8 L92.3,685.4 L93.1,685 L93.8,684.6 L94.6,684.2 L95.4,683.8 L96.1,683.4 L96.9,682.9 L97.7,682.5 L98.4,682.1 L99.2,681.7 L100,681.3 L100.7,680.9 L101.5,680.5 L102.3,680.2 L103,679.8 L103.8,679.4 L104.6,679 L105.3,678.6 L106.1,678.3 L106.9,677.9 L107.6,677.5 L108.4,677.2 L109.2,676.8 L109.9,676.5 L110.7,676.1 L111.5,675.8 L112.3,675.4 L113,675.1 L113.8,674.7 L114.6,674.4 L115.3,674.1 L116.1,673.8 L116.9,673.4 L117.6,673.1 L118.4,672.8 L119.2,672.5 L119.9,672.2 L120.7,671.9 L121.5,671.6 L122.2,671.3 L123,671 L123.8,670.7 L124.5,670.4 L125.3,670.1 L126.1,669.8 L126.8,669.5 L127.6,669.2 L128.4,668.9 L129.1,668.7 L129.9,668.4 L130.7,668.1 L131.5,667.9 L132.2,667.6 L133,667.3 L133.8,667.1 L134.5,666.8 L135.3,666.5 L136.1,666.3 L136.8,666 L137.6,665.8 L138.4,665.5 L139.1,665.3 L139.9,665 L140.7,664.8 L141.4,664.5 L142.2,664.3 L143,664.1 L143.7,663.8 L144.5,663.6 L145.3,663.4 L146,663.1 L146.8,662.9 L147.6,662.7 L148.3,662.5 L149.1,662.2 L149.9,662 L150.7,661.8 L151.4,661.6 L152.2,661.4 L153,661.2 L153.7,661 L154.5,660.7 L155.3,660.5 L156,660.3 L156.8,660.1 L157.6,659.9 L158.3,659.7 L159.1,659.5 L159.9,660.1 L160.6,660.4 L161.4,660.7 L162.2,660.9 L162.9,661 L163.7,661.1 L164.5,661.2 L165.2,661.3 L166,661.3 L166.8,661.4 L168.7,661.5 L171.1,661.6 L173.5,661.7 L175.9,661.8 L178.3,661.9 L180.7,662 L183.1,662.1 L185.5,662.2 L187.9,662.3 L190.3,662.4 L192.7,662.5 L195.1,662.6 L197.5,662.7 L199.9,662.8 L202.3,662.9 L204.7,663 L207.1,663.1 L209.5,663.2 L211.9,663.3 L214.3,663.4 L216.7,663.5 L219.1,663.6 L221.5,663.7 L223.9,663.8 L226.3,663.9 L228.7,664 L231.1,664.1 L233.5,664.2 L235.9,664.3 L238.3,664.4 L240.7,664.5 L243.1,664.6 L245.5,664.7 L247.9,664.8 L250.3,664.9 L252.7,665 L255.1,665.1 L257.5,665.2 L259.9,665.3 L262.3,665.4 L264.7,665.4 L267.1,665.5 L269.5,665.6 L271.9,665.7 L274.3,665.8" fill="none" stroke="#ff0000" stroke-width="2" stroke-linejoin="round" stroke-dasharray="4.5,2.5" stroke-linecap="round"/>
<path d="M82.3,690 L82.7,689.9 L83.1,689.8 L83.5,689.7 L83.8,689.6 L84.2,689.5 L84.6,689.4 L85,689.3 L85.4,689.2 L85.8,689.1 L86.1,688.9 L86.9,688.7 L87.7,688.5 L88.4,688.3 L89.2,688.1 L90,687.9 L90.7,687.7 L91.5,687.5 L92.3,687.3 L93.1,687.1 L93.8,686.9 L94.6,686.7 L95.4,686.5 L96.1,686.3 L96.9,686.1 L97.7,685.9 L98.4,685.7 L99.2,685.5 L100,685.3 L100.7,685.1 L101.5,684.9 L102.3,684.7 L103,684.5 L103.8,684.4 L104.6,684.2 L105.3,684 L106.1,683.8 L106.9,683.6 L107.6,683.4 L108.4,683.2 L109.2,683 L109.9,682.8 L110.7,682.7 L111.5,682.5 L112.3,682.3 L113,682.1 L113.8,681.9 L114.6,681.7 L115.3,681.6 L116.1,681.4 L116.9,681.2 L117.6,681 L118.4,680.8 L119.2,680.7 L119.9,680.5 L120.7,680.3 L121.5,680.1 L122.2,680 L123,679.8 L123.8,679.6 L124.5,679.4 L125.3,679.3 L126.1,679.1 L126.8,678.9 L127.6,678.8 L128.4,678.6 L129.1,678.4 L129.9,678.3 L130.7,678.1 L131.5,677.9 L132.2,677.8 L133,677.6 L133.8,677.4 L134.5,677.3 L135.3,677.1 L136.1,676.9 L136.8,676.8 L137.6,676.6 L138.4,676.4 L139.1,676.3 L139.9,676.1 L140.7,676 L141.4,675.8 L142.2,675.6 L143,675.5 L143.7,675.3 L144.5,675.2 L145.3,675 L146,674.9 L146.8,674.7 L147.6,674.6 L148.3,674.4 L149.1,674.2 L149.9,674.1 L150.7,673.9 L151.4,673.8 L152.2,673.6 L153,673.5 L153.7,673.3 L154.5,673.2 L155.3,673 L156,672.9 L156.8,672.7 L157.6,672.6 L158.3,672.5 L159.1,672.3 L159.9,672.4 L160.6,672.5 L161.4,672.5 L162.2,672.6 L162.9,672.7 L163.7,672.7 L164.5,672.8 L165.2,672.8 L166,672.9 L166.8,672.9 L168.7,673 L171.1,673.2 L173.5,673.3 L175.9,673.4 L178.3,673.5 L180.7,673.6 L183.1,673.7 L185.5,673.7 L187.9,673.8 L190.3,673.9 L192.7,674 L195.1,674.1 L197.5,674.2 L199.9,674.2 L202.3,674.3 L204.7,674.4 L207.1,674.5 L209.5,674.5 L211.9,674.6 L214.3,674.7 L216.7,674.8 L219.1,674.9 L221.5,674.9 L223.9,675 L226.3,675.1 L228.7,675.2 L231.1,675.2 L233.5,675.3 L235.9,675.4 L238.3,675.4 L240.7,675.5 L243.1,675.6 L245.5,675.7 L247.9,675.7 L250.3,675.8 L252.7,675.9 L255.1,675.9 L257.5,676 L259.9,676.1 L262.3,676.2 L264.7,676.2 L267.1,676.3 L269.5,676.4 L271.9,676.4 L274.3,676.5" fill="none" stroke="#ff0000" stroke-width="2" stroke-linejoin="round" stroke-dasharray="4.5,2.5" stroke-linecap="round"/>
<path d="M82.3,690 L82.7,689.9 L83.1,689.9 L83.5,689.8 L83.8,689.8 L84.2,689.7 L84.6,689.6 L85,689.6 L85.4,689.5 L85.8,689.5 L86.1,689.4 L86.9,689.3 L87.7,689.2 L88.4,689.1 L89.2,688.9 L90,688.8 L90.7,688.7 L91.5,688.6 L92.3,688.5 L93.1,688.4 L93.8,688.3 L94.6,688.1 L95.4,688 L96.1,687.9 L96.9,687.8 L97.7,687.7 L98.4,687.6 L99.2,687.5 L100,687.4 L100.7,687.3 L101.5,687.2 L102.3,687 L103,686.9 L103.8,686.8 L104.6,686.7 L105.3,686.6 L106.1,686.5 L106.9,686.4 L107.6,686.3 L108.4,686.2 L109.2,686.1 L109.9,686 L110.7,685.9 L111.5,685.8 L112.3,685.7 L113,685.6 L113.8,685.5 L114.6,685.4 L115.3,685.3 L116.1,685.2 L116.9,685.1 L117.6,685 L118.4,684.9 L119.2,684.8 L119.9,684.7 L120.7,684.6 L121.5,684.5 L122.2,684.4 L123,684.3 L123.8,684.2 L124.5,684.1 L125.3,684 L126.1,683.9 L126.8,683.8 L127.6,683.7 L128.4,683.6 L129.1,683.6 L129.9,683.5 L130.7,683.4 L131.5,683.3 L132.2,683.2 L133,683.1 L133.8,683 L134.5,682.9 L135.3,682.8 L136.1,682.7 L136.8,682.6 L137.6,682.6 L138.4,682.5 L139.1,682.4 L139.9,682.3 L140.7,682.2 L141.4,682.1 L142.2,682 L143,682 L143.7,681.9 L144.5,681.8 L145.3,681.7 L146,681.6 L146.8,681.5 L147.6,681.4 L148.3,681.4 L149.1,681.3 L149.9,681.2 L150.7,681.1 L151.4,681 L152.2,681 L153,680.9 L153.7,680.8 L154.5,680.7 L155.3,680.6 L156,680.6 L156.8,680.5 L157.6,680.4 L158.3,680.3 L159.1,680.2 L159.9,680.3 L160.6,680.3 L161.4,680.4 L162.2,680.4 L162.9,680.4 L163.7,680.5 L164.5,680.5 L165.2,680.5 L166,680.5 L166.8,680.6 L168.7,680.6 L171.1,680.7 L173.5,680.8 L175.9,680.9 L178.3,680.9 L180.7,681 L183.1,681.1 L185.5,681.1 L187.9,681.2 L190.3,681.2 L192.7,681.3 L195.1,681.4 L197.5,681.4 L199.9,681.5 L202.3,681.5 L204.7,681.6 L207.1,681.6 L209.5,681.7 L211.9,681.8 L214.3,681.8 L216.7,681.9 L219.1,681.9 L221.5,682 L223.9,682 L226.3,682.1 L228.7,682.1 L231.1,682.2 L233.5,682.2 L235.9,682.3 L238.3,682.3 L240.7,682.4 L243.1,682.4 L245.5,682.5 L247.9,682.5 L250.3,682.6 L252.7,682.6 L255.1,682.7 L257.5,682.7 L259.9,682.8 L262.3,682.8 L264.7,682.9 L267.1,682.9 L269.5,683 L271.9,683 L274.3,683.1" fill="none" stroke="#ff0000" stroke-width="2" stroke-linejoin="round" stroke-dasharray="4.5,2.5" stroke-linecap="round"/>
<path d="M82.3,690 L82.7,688.3 L83.1,686.6 L83.5,684.9 L83.8,683.3 L84.2,681.6 L84.6,680 L85,678.5 L85.4,676.9 L85.8,675.4 L86.1,673.9 L86.9,670.9 L87.7,668.1 L88.4,665.3 L89.2,662.6 L90,660 L90.7,657.4 L91.5,655 L92.3,652.6 L93.1,650.3 L93.8,648 L94.6,645.8 L95.4,643.7 L96.1,641.7 L96.9,639.7 L97.7,637.7 L98.4,635.9 L99.2,634 L100,632.3 L100.7,630.5 L101.5,628.9 L102.3,627.3 L103,625.7 L103.8,624.2 L104.6,622.7 L105.3,621.3 L106.1,619.9 L106.9,618.5 L107.6,617.2 L108.4,615.9 L109.2,614.7 L109.9,613.5 L110.7,612.3 L111.5,611.2 L112.3,610.1 L113,609 L113.8,608 L114.6,607 L115.3,606 L116.1,605.1 L116.9,604.2 L117.6,603.3 L118.4,602.4 L119.2,601.6 L119.9,600.8 L120.7,600 L121.5,599.2 L122.2,598.5 L123,597.8 L123.8,597.1 L124.5,596.4 L125.3,595.7 L126.1,595.1 L126.8,594.5 L127.6,593.9 L128.4,593.3 L129.1,592.7 L129.9,592.2 L130.7,591.7 L131.5,591.1 L132.2,590.6 L133,590.2 L133.8,589.7 L134.5,589.2 L135.3,588.8 L136.1,588.3 L136.8,587.9 L137.6,587.5 L138.4,587.1 L139.1,586.7 L139.9,586.4 L140.7,586 L141.4,585.7 L142.2,585.3 L143,585 L143.7,584.7 L144.5,584.4 L145.3,584.1 L146,583.8 L146.8,583.5 L147.6,583.2 L148.3,582.9 L149.1,582.7 L149.9,582.4 L150.7,582.2 L151.4,581.9 L152.2,581.7 L153,581.5 L153.7,581.3 L154.5,581.1 L155.3,580.9 L156,580.7 L156.8,580.5 L157.6,580.3 L158.3,580.1 L159.1,579.9 L159.9,581.4 L160.6,582.7 L161.4,583.9 L162.2,584.9 L162.9,585.9 L163.7,586.8 L164.5,587.6 L165.2,588.3 L166,589 L166.8,589.6 L168.7,590.9 L171.1,592.3 L173.5,593.3 L175.9,594.2 L178.3,594.9 L180.7,595.6 L183.1,596.1 L185.5,596.7 L187.9,597.2 L190.3,597.6 L192.7,598.1 L195.1,598.5 L197.5,598.9 L199.9,599.4 L202.3,599.8 L204.7,600.2 L207.1,600.6 L209.5,601 L211.9,601.4 L214.3,601.8 L216.7,602.2 L219.1,602.6 L221.5,603 L223.9,603.3 L226.3,603.7 L228.7,604.1 L231.1,604.5 L233.5,604.9 L235.9,605.3 L238.3,605.6 L240.7,606 L243.1,606.4 L245.5,606.8 L247.9,607.1 L250.3,607.5 L252.7,607.9 L255.1,608.2 L257.5,608.6 L259.9,609 L262.3,609.3 L264.7,609.7 L267.1,610 L269.5,610.4 L271.9,610.7 L274.3,611.1" fill="none" stroke="#000" stroke-width="2" stroke-linejoin="round"/>
<path d="M82.3,690 L82.7,689 L83.1,688.1 L83.5,687.1 L83.8,686.2 L84.2,685.2 L84.6,684.3 L85,683.4 L85.4,682.5 L85.8,681.6 L86.1,680.7 L86.9,678.9 L87.7,677.2 L88.4,675.5 L89.2,673.8 L90,672.2 L90.7,670.6 L91.5,669 L92.3,667.4 L93.1,665.9 L93.8,664.4 L94.6,663 L95.4,661.5 L96.1,660.1 L96.9,658.7 L97.7,657.4 L98.4,656.1 L99.2,654.8 L100,653.5 L100.7,652.2 L101.5,651 L102.3,649.8 L103,648.6 L103.8,647.4 L104.6,646.3 L105.3,645.2 L106.1,644.1 L106.9,643 L107.6,641.9 L108.4,640.9 L109.2,639.9 L109.9,638.9 L110.7,637.9 L111.5,636.9 L112.3,636 L113,635 L113.8,634.1 L114.6,633.2 L115.3,632.4 L116.1,631.5 L116.9,630.6 L117.6,629.8 L118.4,629 L119.2,628.2 L119.9,627.4 L120.7,626.7 L121.5,625.9 L122.2,625.2 L123,624.4 L123.8,623.7 L124.5,623 L125.3,622.3 L126.1,621.7 L126.8,621 L127.6,620.4 L128.4,619.7 L129.1,619.1 L129.9,618.5 L130.7,617.9 L131.5,617.3 L132.2,616.7 L133,616.1 L133.8,615.6 L134.5,615 L135.3,614.5 L136.1,614 L136.8,613.5 L137.6,612.9 L138.4,612.4 L139.1,612 L139.9,611.5 L140.7,611 L141.4,610.5 L142.2,610.1 L143,609.6 L143.7,609.2 L144.5,608.8 L145.3,608.4 L146,607.9 L146.8,607.5 L147.6,607.1 L148.3,606.8 L149.1,606.4 L149.9,606 L150.7,605.6 L151.4,605.3 L152.2,604.9 L153,604.6 L153.7,604.2 L154.5,603.9 L155.3,603.6 L156,603.2 L156.8,602.9 L157.6,602.6 L158.3,602.3 L159.1,602 L159.9,603 L160.6,604 L161.4,604.8 L162.2,605.6 L162.9,606.3 L163.7,606.9 L164.5,607.5 L165.2,608 L166,608.5 L166.8,609 L168.7,609.9 L171.1,610.9 L173.5,611.7 L175.9,612.3 L178.3,612.8 L180.7,613.3 L183.1,613.7 L185.5,614.1 L187.9,614.5 L190.3,614.8 L192.7,615.2 L195.1,615.5 L197.5,615.8 L199.9,616.1 L202.3,616.4 L204.7,616.7 L207.1,617 L209.5,617.3 L211.9,617.6 L214.3,617.9 L216.7,618.2 L219.1,618.5 L221.5,618.8 L223.9,619.1 L226.3,619.4 L228.7,619.7 L231.1,620 L233.5,620.3 L235.9,620.5 L238.3,620.8 L240.7,621.1 L243.1,621.4 L245.5,621.7 L247.9,622 L250.3,622.2 L252.7,622.5 L255.1,622.8 L257.5,623.1 L259.9,623.3 L262.3,623.6 L264.7,623.9 L267.1,624.2 L269.5,624.4 L271.9,624.7 L274.3,625" fill="none" stroke="#000" stroke-width="2" stroke-linejoin="round"/>
<path d="M82.3,690 L82.7,689.4 L83.1,688.7 L83.5,688.1 L83.8,687.5 L84.2,686.9 L84.6,686.3 L85,685.6 L85.4,685 L85.8,684.4 L86.1,683.8 L86.9,682.7 L87.7,681.5 L88.4,680.4 L89.2,679.3 L90,678.2 L90.7,677.1 L91.5,676 L92.3,674.9 L93.1,673.9 L93.8,672.9 L94.6,671.9 L95.4,670.9 L96.1,669.9 L96.9,668.9 L97.7,668 L98.4,667.1 L99.2,666.1 L100,665.2 L100.7,664.3 L101.5,663.5 L102.3,662.6 L103,661.8 L103.8,660.9 L104.6,660.1 L105.3,659.3 L106.1,658.5 L106.9,657.7 L107.6,656.9 L108.4,656.2 L109.2,655.4 L109.9,654.7 L110.7,653.9 L111.5,653.2 L112.3,652.5 L113,651.8 L113.8,651.1 L114.6,650.5 L115.3,649.8 L116.1,649.1 L116.9,648.5 L117.6,647.9 L118.4,647.2 L119.2,646.6 L119.9,646 L120.7,645.4 L121.5,644.8 L122.2,644.3 L123,643.7 L123.8,643.1 L124.5,642.6 L125.3,642 L126.1,641.5 L126.8,641 L127.6,640.4 L128.4,639.9 L129.1,639.4 L129.9,638.9 L130.7,638.4 L131.5,638 L132.2,637.5 L133,637 L133.8,636.6 L134.5,636.1 L135.3,635.7 L136.1,635.2 L136.8,634.8 L137.6,634.4 L138.4,634 L139.1,633.5 L139.9,633.1 L140.7,632.7 L141.4,632.3 L142.2,632 L143,631.6 L143.7,631.2 L144.5,630.8 L145.3,630.5 L146,630.1 L146.8,629.8 L147.6,629.4 L148.3,629.1 L149.1,628.7 L149.9,628.4 L150.7,628.1 L151.4,627.7 L152.2,627.4 L153,627.1 L153.7,626.8 L154.5,626.5 L155.3,626.2 L156,625.9 L156.8,625.6 L157.6,625.3 L158.3,625.1 L159.1,624.8 L159.9,625.4 L160.6,625.9 L161.4,626.4 L162.2,626.9 L162.9,627.3 L163.7,627.7 L164.5,628 L165.2,628.3 L166,628.6 L166.8,628.9 L168.7,629.4 L171.1,630 L173.5,630.5 L175.9,630.9 L178.3,631.2 L180.7,631.5 L183.1,631.8 L185.5,632 L187.9,632.3 L190.3,632.5 L192.7,632.7 L195.1,632.9 L197.5,633.1 L199.9,633.3 L202.3,633.5 L204.7,633.7 L207.1,633.9 L209.5,634.1 L211.9,634.3 L214.3,634.5 L216.7,634.7 L219.1,634.9 L221.5,635.1 L223.9,635.3 L226.3,635.5 L228.7,635.7 L231.1,635.9 L233.5,636 L235.9,636.2 L238.3,636.4 L240.7,636.6 L243.1,636.8 L245.5,637 L247.9,637.2 L250.3,637.4 L252.7,637.5 L255.1,637.7 L257.5,637.9 L259.9,638.1 L262.3,638.3 L264.7,638.4 L267.1,638.6 L269.5,638.8 L271.9,639 L274.3,639.2" fill="none" stroke="#000" stroke-width="2" stroke-linejoin="round"/>
<path d="M82.3,690 L82.7,689.6 L83.1,689.2 L83.5,688.8 L83.8,688.4 L84.2,688 L84.6,687.6 L85,687.2 L85.4,686.9 L85.8,686.5 L86.1,686.1 L86.9,685.3 L87.7,684.6 L88.4,683.9 L89.2,683.1 L90,682.4 L90.7,681.7 L91.5,681 L92.3,680.3 L93.1,679.6 L93.8,679 L94.6,678.3 L95.4,677.6 L96.1,677 L96.9,676.3 L97.7,675.7 L98.4,675.1 L99.2,674.5 L100,673.8 L100.7,673.2 L101.5,672.6 L102.3,672 L103,671.5 L103.8,670.9 L104.6,670.3 L105.3,669.8 L106.1,669.2 L106.9,668.7 L107.6,668.1 L108.4,667.6 L109.2,667.1 L109.9,666.5 L110.7,666 L111.5,665.5 L112.3,665 L113,664.5 L113.8,664 L114.6,663.5 L115.3,663.1 L116.1,662.6 L116.9,662.1 L117.6,661.7 L118.4,661.2 L119.2,660.8 L119.9,660.3 L120.7,659.9 L121.5,659.4 L122.2,659 L123,658.6 L123.8,658.2 L124.5,657.8 L125.3,657.3 L126.1,656.9 L126.8,656.5 L127.6,656.1 L128.4,655.8 L129.1,655.4 L129.9,655 L130.7,654.6 L131.5,654.3 L132.2,653.9 L133,653.5 L133.8,653.2 L134.5,652.8 L135.3,652.5 L136.1,652.1 L136.8,651.8 L137.6,651.5 L138.4,651.1 L139.1,650.8 L139.9,650.5 L140.7,650.2 L141.4,649.8 L142.2,649.5 L143,649.2 L143.7,648.9 L144.5,648.6 L145.3,648.3 L146,648 L146.8,647.7 L147.6,647.5 L148.3,647.2 L149.1,646.9 L149.9,646.6 L150.7,646.3 L151.4,646.1 L152.2,645.8 L153,645.5 L153.7,645.3 L154.5,645 L155.3,644.8 L156,644.5 L156.8,644.3 L157.6,644 L158.3,643.8 L159.1,643.6 L159.9,643.9 L160.6,644.1 L161.4,644.4 L162.2,644.6 L162.9,644.8 L163.7,645 L164.5,645.2 L165.2,645.4 L166,645.5 L166.8,645.7 L168.7,646 L171.1,646.3 L173.5,646.6 L175.9,646.9 L178.3,647.1 L180.7,647.3 L183.1,647.5 L185.5,647.7 L187.9,647.9 L190.3,648 L192.7,648.2 L195.1,648.4 L197.5,648.5 L199.9,648.7 L202.3,648.9 L204.7,649 L207.1,649.2 L209.5,649.3 L211.9,649.5 L214.3,649.7 L216.7,649.8 L219.1,650 L221.5,650.1 L223.9,650.3 L226.3,650.4 L228.7,650.6 L231.1,650.8 L233.5,650.9 L235.9,651.1 L238.3,651.2 L240.7,651.4 L243.1,651.5 L245.5,651.7 L247.9,651.8 L250.3,652 L252.7,652.1 L255.1,652.3 L257.5,652.4 L259.9,652.5 L262.3,652.7 L264.7,652.8 L267.1,653 L269.5,653.1 L271.9,653.3 L274.3,653.4" fill="none" stroke="#000" stroke-width="2" stroke-linejoin="round"/>
<path d="M82.3,690 L82.7,689.8 L83.1,689.6 L83.5,689.3 L83.8,689.1 L84.2,688.9 L84.6,688.7 L85,688.5 L85.4,688.3 L85.8,688.1 L86.1,687.9 L86.9,687.4 L87.7,687 L88.4,686.6 L89.2,686.2 L90,685.8 L90.7,685.4 L91.5,685 L92.3,684.6 L93.1,684.2 L93.8,683.8 L94.6,683.4 L95.4,683.1 L96.1,682.7 L96.9,682.3 L97.7,681.9 L98.4,681.6 L99.2,681.2 L100,680.8 L100.7,680.5 L101.5,680.1 L102.3,679.7 L103,679.4 L103.8,679 L104.6,678.7 L105.3,678.3 L106.1,678 L106.9,677.7 L107.6,677.3 L108.4,677 L109.2,676.7 L109.9,676.3 L110.7,676 L111.5,675.7 L112.3,675.4 L113,675 L113.8,674.7 L114.6,674.4 L115.3,674.1 L116.1,673.8 L116.9,673.5 L117.6,673.2 L118.4,672.9 L119.2,672.6 L119.9,672.3 L120.7,672 L121.5,671.7 L122.2,671.4 L123,671.1 L123.8,670.9 L124.5,670.6 L125.3,670.3 L126.1,670 L126.8,669.7 L127.6,669.5 L128.4,669.2 L129.1,668.9 L129.9,668.7 L130.7,668.4 L131.5,668.1 L132.2,667.9 L133,667.6 L133.8,667.4 L134.5,667.1 L135.3,666.9 L136.1,666.6 L136.8,666.4 L137.6,666.1 L138.4,665.9 L139.1,665.6 L139.9,665.4 L140.7,665.1 L141.4,664.9 L142.2,664.7 L143,664.4 L143.7,664.2 L144.5,664 L145.3,663.8 L146,663.5 L146.8,663.3 L147.6,663.1 L148.3,662.9 L149.1,662.6 L149.9,662.4 L150.7,662.2 L151.4,662 L152.2,661.8 L153,661.6 L153.7,661.4 L154.5,661.2 L155.3,661 L156,660.8 L156.8,660.6 L157.6,660.4 L158.3,660.2 L159.1,660 L159.9,660.2 L160.6,660.3 L161.4,660.5 L162.2,660.6 L162.9,660.8 L163.7,660.9 L164.5,661 L165.2,661.1 L166,661.2 L166.8,661.3 L168.7,661.5 L171.1,661.7 L173.5,661.9 L175.9,662.1 L178.3,662.2 L180.7,662.4 L183.1,662.5 L185.5,662.6 L187.9,662.7 L190.3,662.8 L192.7,662.9 L195.1,663 L197.5,663.1 L199.9,663.2 L202.3,663.3 L204.7,663.4 L207.1,663.5 L209.5,663.6 L211.9,663.7 L214.3,663.8 L216.7,663.9 L219.1,664 L221.5,664.1 L223.9,664.2 L226.3,664.3 L228.7,664.4 L231.1,664.5 L233.5,664.6 L235.9,664.7 L238.3,664.8 L240.7,664.9 L243.1,665 L245.5,665.1 L247.9,665.2 L250.3,665.3 L252.7,665.3 L255.1,665.4 L257.5,665.5 L259.9,665.6 L262.3,665.7 L264.7,665.8 L267.1,665.9 L269.5,666 L271.9,666.1 L274.3,666.2" fill="none" stroke="#000" stroke-width="2" stroke-linejoin="round"/>
<path d="M82.3,690 L82.7,689.9 L83.1,689.8 L83.5,689.7 L83.8,689.6 L84.2,689.5 L84.6,689.4 L85,689.3 L85.4,689.2 L85.8,689.1 L86.1,688.9 L86.9,688.7 L87.7,688.5 L88.4,688.3 L89.2,688.1 L90,687.9 L90.7,687.7 L91.5,687.5 L92.3,687.3 L93.1,687.1 L93.8,686.9 L94.6,686.7 L95.4,686.5 L96.1,686.3 L96.9,686.1 L97.7,685.9 L98.4,685.7 L99.2,685.5 L100,685.3 L100.7,685.1 L101.5,684.9 L102.3,684.7 L103,684.5 L103.8,684.4 L104.6,684.2 L105.3,684 L106.1,683.8 L106.9,683.6 L107.6,683.4 L108.4,683.2 L109.2,683 L109.9,682.8 L110.7,682.7 L111.5,682.5 L112.3,682.3 L113,682.1 L113.8,681.9 L114.6,681.7 L115.3,681.6 L116.1,681.4 L116.9,681.2 L117.6,681 L118.4,680.8 L119.2,680.7 L119.9,680.5 L120.7,680.3 L121.5,680.1 L122.2,680 L123,679.8 L123.8,679.6 L124.5,679.4 L125.3,679.3 L126.1,679.1 L126.8,678.9 L127.6,678.8 L128.4,678.6 L129.1,678.4 L129.9,678.3 L130.7,678.1 L131.5,677.9 L132.2,677.8 L133,677.6 L133.8,677.4 L134.5,677.3 L135.3,677.1 L136.1,676.9 L136.8,676.8 L137.6,676.6 L138.4,676.4 L139.1,676.3 L139.9,676.1 L140.7,676 L141.4,675.8 L142.2,675.6 L143,675.5 L143.7,675.3 L144.5,675.2 L145.3,675 L146,674.9 L146.8,674.7 L147.6,674.6 L148.3,674.4 L149.1,674.2 L149.9,674.1 L150.7,673.9 L151.4,673.8 L152.2,673.6 L153,673.5 L153.7,673.3 L154.5,673.2 L155.3,673 L156,672.9 L156.8,672.7 L157.6,672.6 L158.3,672.5 L159.1,672.3 L159.9,672.4 L160.6,672.5 L161.4,672.5 L162.2,672.6 L162.9,672.7 L163.7,672.7 L164.5,672.8 L165.2,672.8 L166,672.9 L166.8,672.9 L168.7,673 L171.1,673.2 L173.5,673.3 L175.9,673.4 L178.3,673.5 L180.7,673.6 L183.1,673.7 L185.5,673.7 L187.9,673.8 L190.3,673.9 L192.7,674 L195.1,674.1 L197.5,674.2 L199.9,674.2 L202.3,674.3 L204.7,674.4 L207.1,674.5 L209.5,674.5 L211.9,674.6 L214.3,674.7 L216.7,674.8 L219.1,674.9 L221.5,674.9 L223.9,675 L226.3,675.1 L228.7,675.2 L231.1,675.2 L233.5,675.3 L235.9,675.4 L238.3,675.4 L240.7,675.5 L243.1,675.6 L245.5,675.7 L247.9,675.7 L250.3,675.8 L252.7,675.9 L255.1,675.9 L257.5,676 L259.9,676.1 L262.3,676.2 L264.7,676.2 L267.1,676.3 L269.5,676.4 L271.9,676.4 L274.3,676.5" fill="none" stroke="#000" stroke-width="2" stroke-linejoin="round"/>
<path d="M82.3,690 L82.7,689.9 L83.1,689.9 L83.5,689.8 L83.8,689.8 L84.2,689.7 L84.6,689.6 L85,689.6 L85.4,689.5 L85.8,689.5 L86.1,689.4 L86.9,689.3 L87.7,689.2 L88.4,689.1 L89.2,688.9 L90,688.8 L90.7,688.7 L91.5,688.6 L92.3,688.5 L93.1,688.4 L93.8,688.3 L94.6,688.1 L95.4,688 L96.1,687.9 L96.9,687.8 L97.7,687.7 L98.4,687.6 L99.2,687.5 L100,687.4 L100.7,687.3 L101.5,687.2 L102.3,687 L103,686.9 L103.8,686.8 L104.6,686.7 L105.3,686.6 L106.1,686.5 L106.9,686.4 L107.6,686.3 L108.4,686.2 L109.2,686.1 L109.9,686 L110.7,685.9 L111.5,685.8 L112.3,685.7 L113,685.6 L113.8,685.5 L114.6,685.4 L115.3,685.3 L116.1,685.2 L116.9,685.1 L117.6,685 L118.4,684.9 L119.2,684.8 L119.9,684.7 L120.7,684.6 L121.5,684.5 L122.2,684.4 L123,684.3 L123.8,684.2 L124.5,684.1 L125.3,684 L126.1,683.9 L126.8,683.8 L127.6,683.7 L128.4,683.6 L129.1,683.6 L129.9,683.5 L130.7,683.4 L131.5,683.3 L132.2,683.2 L133,683.1 L133.8,683 L134.5,682.9 L135.3,682.8 L136.1,682.7 L136.8,682.6 L137.6,682.6 L138.4,682.5 L139.1,682.4 L139.9,682.3 L140.7,682.2 L141.4,682.1 L142.2,682 L143,682 L143.7,681.9 L144.5,681.8 L145.3,681.7 L146,681.6 L146.8,681.5 L147.6,681.4 L148.3,681.4 L149.1,681.3 L149.9,681.2 L150.7,681.1 L151.4,681 L152.2,681 L153,680.9 L153.7,680.8 L154.5,680.7 L155.3,680.6 L156,680.6 L156.8,680.5 L157.6,680.4 L158.3,680.3 L159.1,680.2 L159.9,680.3 L160.6,680.3 L161.4,680.4 L162.2,680.4 L162.9,680.4 L163.7,680.5 L164.5,680.5 L165.2,680.5 L166,680.5 L166.8,680.6 L168.7,680.6 L171.1,680.7 L173.5,680.8 L175.9,680.9 L178.3,680.9 L180.7,681 L183.1,681.1 L185.5,681.1 L187.9,681.2 L190.3,681.2 L192.7,681.3 L195.1,681.4 L197.5,681.4 L199.9,681.5 L202.3,681.5 L204.7,681.6 L207.1,681.6 L209.5,681.7 L211.9,681.8 L214.3,681.8 L216.7,681.9 L219.1,681.9 L221.5,682 L223.9,682 L226.3,682.1 L228.7,682.1 L231.1,682.2 L233.5,682.2 L235.9,682.3 L238.3,682.3 L240.7,682.4 L243.1,682.4 L245.5,682.5 L247.9,682.5 L250.3,682.6 L252.7,682.6 L255.1,682.7 L257.5,682.7 L259.9,682.8 L262.3,682.8 L264.7,682.9 L267.1,682.9 L269.5,683 L271.9,683 L274.3,683.1" fill="none" stroke="#000" stroke-width="2" stroke-linejoin="round"/>
<text transform="translate(0,580) scale(1,1.04)" x="38.5" y="0" font-size="21.00" fill="#000">80</text>
<text transform="translate(0,609.6) scale(1,1.04)" x="38.5" y="0" font-size="21.00" fill="#000">60</text>
<text transform="translate(0,639.1) scale(1,1.04)" x="38.5" y="0" font-size="21.00" fill="#000">40</text>
<text transform="translate(0,668.7) scale(1,1.04)" x="38.5" y="0" font-size="21.00" fill="#000">20</text>
<text transform="translate(0,698.2) scale(1,1.04)" x="50.1" y="0" font-size="21.00" fill="#000">0</text>
<text transform="translate(0,733) scale(1,1.04)" x="76" y="0" font-size="21.50" fill="#000">0</text>
<text transform="translate(0,733) scale(1,1.04)" x="160.1" y="0" font-size="21.50" fill="#000">500</text>
<text transform="translate(0,733) scale(1,1.04)" x="249.7" y="0" font-size="21.50" fill="#000">1000</text>
<text transform="translate(0,757.6) scale(1,1.04)" x="128.6" y="0" font-size="21.72" fill="#000">Time (s)</text>
<text transform="translate(21.9,0) rotate(-90) scale(1,1.04)" x="-708.5" y="0" font-size="21.52" fill="#000">Response (RU)</text>
<text transform="translate(0,571.5) scale(1,1.04)" x="200.6" y="0" font-size="21.00" fill="#000">K</text>
<text transform="translate(0,575.9) scale(1,1.04)" x="215.1" y="0" font-size="13.30" fill="#000">D</text>
<text transform="translate(0,571.5) scale(1,1.04)" x="230.5" y="0" font-size="22.38" fill="#000">~ 4 nM</text>
<text transform="translate(0,21.4) scale(1,1.04)" x="323.3" y="0" font-size="23.06" fill="#000">c)</text>

<g fill="none" stroke="#000" stroke-width="2.4" stroke-linecap="round" stroke-linejoin="round">
<path d="M408,3.4 C393,4.5 381,15 380.3,30 C379.6,46 390,57 403,57.2 L421.5,57.2 C424.5,57.2 424.5,51.4 421,51.4 L415.8,51.4 C418.5,48 418,42 413,39.8"/>
<path d="M394.3,49.3 C392.5,35 402,20.5 416,20.1 C425,19.8 432,23 437,27.6"/>
<path d="M437,30.3 L440,20.9 L447,26.5 C455,28 463,28.5 467.5,29.8 C472,31 472.5,35.5 469.2,37.4 L444.5,50.6"/>
<path d="M437.8,50.7 L448.2,50.7 C451.3,50.7 451.3,57.9 448.2,57.9 L427.7,57.9"/>
</g>
<circle cx="451.3" cy="32.3" r="1.6" fill="#000"/>

<line x1="477.9" y1="33.9" x2="503" y2="33.9" stroke="#000" stroke-width="1.6" />
<path d="M502.2,26.1 L518.2,33.9 L502.2,41.9 Z" fill="#000"/>
<path d="M514.7,13.6 C518,10.5 524,7.5 528.7,6.6 C530.5,6.3 531,7.8 531.5,8.9 C533,6 536.5,1.6 539,1.4 C541.5,1.3 545.5,5 545.6,7 C545.6,9 542.5,8.3 540.9,8.4 C538.5,8.6 537.8,12 537.6,15.9 L536.7,28.1 L535.3,46.8 L534.8,59 C535.3,62 538.5,62.3 542.8,62.3 C544,62.5 544,64 543.3,63.8 C541,64.5 535,64.8 531.5,65.6 C529,66.2 527.5,70 526.4,69.8 C525,69.5 525.5,64 526.9,60.9 L528.7,51.5 L531.1,32.8 L532,18.7 C532,16 531,14.4 530.6,14.1 C528.5,12 523,12.3 519.4,13.1 C517,13.6 514.5,14.5 514.7,13.6 Z" fill="#fff" stroke="#1c2f5c" stroke-width="2.7" stroke-linejoin="round"/>
<line x1="534.7" y1="23.5" x2="530.2" y2="55.8" stroke="#ff0000" stroke-width="5.8" stroke-linecap="round"/>
<text transform="translate(0,33.5) scale(1,1.04)" x="568.9" y="0" font-size="22.05" fill="#000">Bone</text>
<text transform="translate(0,59.1) scale(1,1.04)" x="558.5" y="0" font-size="21.38" fill="#000">marrow</text>
<line x1="532.3" y1="76.2" x2="532.3" y2="107" stroke="#000" stroke-width="1.6" />
<path d="M524.5,105.8 L540.3,105.8 L532.3,122.4 Z" fill="#000"/>
<defs><linearGradient id="cg" x1="0.15" y1="0.85" x2="0.85" y2="0.15">
<stop offset="0" stop-color="#6ef2f6"/><stop offset="0.55" stop-color="#4fd6de"/><stop offset="1" stop-color="#3aa8ae"/></linearGradient></defs>
<path d="M487.70,134.90 L487.70,119.70 L482.70,119.70 L482.70,134.90 Z" fill="#f07d2a" stroke="#1d2d5e" stroke-width="0.9"/>
<path d="M490.60,114.20 A5.45,5.45 0 1 1 479.80,114.20 A6.2,6.2 0 0 0 490.60,114.20 Z" fill="#f07d2a" stroke="#111" stroke-width="1"/>
<path d="M502.37,146.96 L515.92,140.06 L513.65,135.60 L500.10,142.50 Z" fill="#f07d2a" stroke="#1d2d5e" stroke-width="0.9"/>
<path d="M522.13,140.14 A5.45,5.45 0 1 1 517.23,130.52 A6.2,6.2 0 0 0 522.13,140.14 Z" fill="#f07d2a" stroke="#111" stroke-width="1"/>
<path d="M498.07,165.73 L510.21,174.88 L513.22,170.88 L501.08,161.74 Z" fill="#f07d2a" stroke="#1d2d5e" stroke-width="0.9"/>
<path d="M512.86,180.50 A5.45,5.45 0 1 1 519.36,171.88 A6.2,6.2 0 0 0 512.86,180.50 Z" fill="#f07d2a" stroke="#111" stroke-width="1"/>
<path d="M482.70,170.90 L482.70,186.10 L487.70,186.10 L487.70,170.90 Z" fill="#f07d2a" stroke="#1d2d5e" stroke-width="0.9"/>
<path d="M479.80,191.60 A5.45,5.45 0 1 1 490.60,191.60 A6.2,6.2 0 0 0 479.80,191.60 Z" fill="#f07d2a" stroke="#111" stroke-width="1"/>
<path d="M467.43,156.71 L453.15,161.91 L454.86,166.60 L469.14,161.41 Z" fill="#f07d2a" stroke="#1d2d5e" stroke-width="0.9"/>
<path d="M446.99,161.06 A5.45,5.45 0 1 1 450.68,171.21 A6.2,6.2 0 0 0 446.99,161.06 Z" fill="#f07d2a" stroke="#111" stroke-width="1"/>
<path d="M471.78,140.64 L459.26,132.03 L456.42,136.16 L468.95,144.77 Z" fill="#f07d2a" stroke="#1d2d5e" stroke-width="0.9"/>
<path d="M456.36,126.53 A5.45,5.45 0 1 1 450.25,135.43 A6.2,6.2 0 0 0 456.36,126.53 Z" fill="#f07d2a" stroke="#111" stroke-width="1"/>
<circle cx="485.2" cy="152.9" r="20.9" fill="url(#cg)" stroke="#1d2d5e" stroke-width="1.7"/>
<circle cx="485.4" cy="144.5" r="8.4" fill="#000"/>
<path d="M576.00,136.50 L576.00,121.30 L571.00,121.30 L571.00,136.50 Z" fill="#f07d2a" stroke="#1d2d5e" stroke-width="0.9"/>
<path d="M578.90,115.80 A5.45,5.45 0 1 1 568.10,115.80 A6.2,6.2 0 0 0 578.90,115.80 Z" fill="#f07d2a" stroke="#111" stroke-width="1"/>
<path d="M590.67,148.56 L604.22,141.66 L601.95,137.20 L588.40,144.10 Z" fill="#f07d2a" stroke="#1d2d5e" stroke-width="0.9"/>
<path d="M610.43,141.74 A5.45,5.45 0 1 1 605.53,132.12 A6.2,6.2 0 0 0 610.43,141.74 Z" fill="#f07d2a" stroke="#111" stroke-width="1"/>
<path d="M586.37,167.33 L598.51,176.48 L601.52,172.48 L589.38,163.34 Z" fill="#f07d2a" stroke="#1d2d5e" stroke-width="0.9"/>
<path d="M601.16,182.10 A5.45,5.45 0 1 1 607.66,173.48 A6.2,6.2 0 0 0 601.16,182.10 Z" fill="#f07d2a" stroke="#111" stroke-width="1"/>
<path d="M571.00,172.50 L571.00,187.70 L576.00,187.70 L576.00,172.50 Z" fill="#f07d2a" stroke="#1d2d5e" stroke-width="0.9"/>
<path d="M568.10,193.20 A5.45,5.45 0 1 1 578.90,193.20 A6.2,6.2 0 0 0 568.10,193.20 Z" fill="#f07d2a" stroke="#111" stroke-width="1"/>
<path d="M555.73,158.31 L541.45,163.51 L543.16,168.20 L557.44,163.01 Z" fill="#f07d2a" stroke="#1d2d5e" stroke-width="0.9"/>
<path d="M535.29,162.66 A5.45,5.45 0 1 1 538.98,172.81 A6.2,6.2 0 0 0 535.29,162.66 Z" fill="#f07d2a" stroke="#111" stroke-width="1"/>
<path d="M560.08,142.24 L547.56,133.63 L544.72,137.76 L557.25,146.37 Z" fill="#f07d2a" stroke="#1d2d5e" stroke-width="0.9"/>
<path d="M544.66,128.13 A5.45,5.45 0 1 1 538.55,137.03 A6.2,6.2 0 0 0 544.66,128.13 Z" fill="#f07d2a" stroke="#111" stroke-width="1"/>
<circle cx="573.5" cy="154.5" r="20.9" fill="url(#cg)" stroke="#1d2d5e" stroke-width="1.7"/>
<circle cx="573.7" cy="146.1" r="8.4" fill="#000"/>
<path d="M527.70,199.60 L527.70,184.40 L522.70,184.40 L522.70,199.60 Z" fill="#f07d2a" stroke="#1d2d5e" stroke-width="0.9"/>
<path d="M530.60,178.90 A5.45,5.45 0 1 1 519.80,178.90 A6.2,6.2 0 0 0 530.60,178.90 Z" fill="#f07d2a" stroke="#111" stroke-width="1"/>
<path d="M542.37,211.66 L555.92,204.76 L553.65,200.30 L540.10,207.20 Z" fill="#f07d2a" stroke="#1d2d5e" stroke-width="0.9"/>
<path d="M562.13,204.84 A5.45,5.45 0 1 1 557.23,195.22 A6.2,6.2 0 0 0 562.13,204.84 Z" fill="#f07d2a" stroke="#111" stroke-width="1"/>
<path d="M538.07,230.43 L550.21,239.58 L553.22,235.58 L541.08,226.44 Z" fill="#f07d2a" stroke="#1d2d5e" stroke-width="0.9"/>
<path d="M552.86,245.20 A5.45,5.45 0 1 1 559.36,236.58 A6.2,6.2 0 0 0 552.86,245.20 Z" fill="#f07d2a" stroke="#111" stroke-width="1"/>
<path d="M522.70,235.60 L522.70,250.80 L527.70,250.80 L527.70,235.60 Z" fill="#f07d2a" stroke="#1d2d5e" stroke-width="0.9"/>
<path d="M519.80,256.30 A5.45,5.45 0 1 1 530.60,256.30 A6.2,6.2 0 0 0 519.80,256.30 Z" fill="#f07d2a" stroke="#111" stroke-width="1"/>
<path d="M507.43,221.41 L493.15,226.61 L494.86,231.30 L509.14,226.11 Z" fill="#f07d2a" stroke="#1d2d5e" stroke-width="0.9"/>
<path d="M486.99,225.76 A5.45,5.45 0 1 1 490.68,235.91 A6.2,6.2 0 0 0 486.99,225.76 Z" fill="#f07d2a" stroke="#111" stroke-width="1"/>
<path d="M511.78,205.34 L499.26,196.73 L496.42,200.86 L508.95,209.47 Z" fill="#f07d2a" stroke="#1d2d5e" stroke-width="0.9"/>
<path d="M496.36,191.23 A5.45,5.45 0 1 1 490.25,200.13 A6.2,6.2 0 0 0 496.36,191.23 Z" fill="#f07d2a" stroke="#111" stroke-width="1"/>
<circle cx="525.2" cy="217.6" r="20.9" fill="url(#cg)" stroke="#1d2d5e" stroke-width="1.7"/>
<circle cx="525.4" cy="209.2" r="8.4" fill="#000"/>
<text transform="translate(0,284) scale(1,1.04)" x="501.2" y="0" font-size="22.10" fill="#000">ILC-2</text>
<line x1="528.8" y1="294" x2="528.8" y2="364" stroke="#000" stroke-width="1.5" />
<path d="M501.9,327.6 C518,328.5 527.5,338 528.6,362" fill="none" stroke="#000" stroke-width="1.6"/>
<path d="M553.9,327 C540,328 530,338 529,362" fill="none" stroke="#000" stroke-width="1.6"/>
<path d="M520.8,362.2 L536.8,362.2 L528.8,378 Z" fill="#000"/>
<circle cx="477.1" cy="312.4" r="3.9" fill="#a5d58a" stroke="#3a4a3a" stroke-width="0.8"/>
<circle cx="501.3" cy="317.4" r="3.9" fill="#a5d58a" stroke="#3a4a3a" stroke-width="0.8"/>
<circle cx="489" cy="323.8" r="3.9" fill="#a5d58a" stroke="#3a4a3a" stroke-width="0.8"/>
<circle cx="471.5" cy="329" r="3.9" fill="#a5d58a" stroke="#3a4a3a" stroke-width="0.8"/>
<circle cx="482.3" cy="336.4" r="3.9" fill="#a5d58a" stroke="#3a4a3a" stroke-width="0.8"/>
<circle cx="496.1" cy="337.2" r="3.9" fill="#a5d58a" stroke="#3a4a3a" stroke-width="0.8"/>
<circle cx="510" cy="397.7" r="3.9" fill="#ff40ff" stroke="#3a2a4a" stroke-width="0.8"/>
<circle cx="525.3" cy="397.1" r="3.9" fill="#ff40ff" stroke="#3a2a4a" stroke-width="0.8"/>
<circle cx="537.8" cy="402" r="3.9" fill="#ff40ff" stroke="#3a2a4a" stroke-width="0.8"/>
<circle cx="522.3" cy="406.4" r="3.9" fill="#ff40ff" stroke="#3a2a4a" stroke-width="0.8"/>
<circle cx="513" cy="410.8" r="3.9" fill="#ff40ff" stroke="#3a2a4a" stroke-width="0.8"/>
<circle cx="526.1" cy="415.2" r="3.9" fill="#ff40ff" stroke="#3a2a4a" stroke-width="0.8"/>
<circle cx="537.8" cy="411.7" r="3.9" fill="#ff40ff" stroke="#3a2a4a" stroke-width="0.8"/>
<g transform="translate(572,304) rotate(-0.59)"><rect x="0.4" y="-2.2" width="14.8" height="4.5" rx="1.2" fill="#b5ebe2" stroke="#111" stroke-width="1.8"/><rect x="16" y="-2.2" width="20.6" height="4.5" rx="1.2" fill="#5cf0f8" stroke="#1d3566" stroke-width="1.8"/><rect x="37.4" y="-2.2" width="20" height="4.5" rx="1.2" fill="#0b1a8e" stroke="#1d2d5e" stroke-width="1.8"/></g>
<g transform="translate(560.6,304.9) rotate(86.83)"><rect x="0.4" y="-2.5" width="20.9" height="4.9" rx="1.2" fill="#0b1a8e" stroke="#1d2d5e" stroke-width="1.8"/><rect x="22.1" y="-2.5" width="20.9" height="4.9" rx="1.2" fill="#5cf0f8" stroke="#1d3566" stroke-width="1.8"/></g>
<g transform="translate(574.3,333.5) rotate(-27.60)"><rect x="0.4" y="-2.2" width="14.4" height="4.5" rx="1.2" fill="#b5ebe2" stroke="#111" stroke-width="1.8"/><rect x="15.6" y="-2.2" width="21.1" height="4.5" rx="1.2" fill="#5cf0f8" stroke="#1d3566" stroke-width="1.8"/></g>
<circle cx="367.9" cy="457.9" r="7.4" fill="#a5d58a" stroke="#555" stroke-width="1"/>
<text transform="translate(0,466.6) scale(1,1.04)" x="385.2" y="0" font-size="21.85" fill="#000">mIL-33</text>
<rect x="482" y="451.3" width="12.6" height="18.4" rx="1.6" fill="#ef7f2f" stroke="#3a4a7a" stroke-width="0.8"/>
<path d="M498.9,441.4 A11.4,11.4 0 0 1 476.3,441.4 A15.5,15.5 0 0 0 498.9,441.4 Z" fill="#ef7f2f" stroke="#111" stroke-width="1"/>
<text transform="translate(0,466.4) scale(1,1.04)" x="515.5" y="0" font-size="22.19" fill="#000">mST2</text>
<circle cx="605.9" cy="457.6" r="7.4" fill="#ff40ff" stroke="#555" stroke-width="1"/>
<text transform="translate(0,466.4) scale(1,1.04)" x="627" y="0" font-size="22.18" fill="#000">mIL-5</text>
<text transform="translate(0,507.1) scale(1,1.04)" x="320.1" y="0" font-size="22.29" fill="#000">d)</text>
<path d="M428.3,502.5 H443.2 V662.6" fill="none" stroke="#000" stroke-width="2.0"/>
<line x1="428.3" y1="555.9" x2="443.2" y2="555.9" stroke="#000" stroke-width="2.0" />
<line x1="428.3" y1="609.2" x2="443.2" y2="609.2" stroke="#000" stroke-width="2.0" />
<path d="M427.8,662.6 H644.4 V678.1" fill="none" stroke="#000" stroke-width="2.0"/>
<line x1="472.2" y1="662.6" x2="472.2" y2="678.1" stroke="#000" stroke-width="2.0" />
<line x1="529.6" y1="662.6" x2="529.6" y2="678.1" stroke="#000" stroke-width="2.0" />
<line x1="587" y1="662.6" x2="587" y2="678.1" stroke="#000" stroke-width="2.0" />
<text transform="translate(0,510.6) scale(1,1.04)" x="398.4" y="0" font-size="21.80" fill="#000">12</text>
<text transform="translate(0,564) scale(1,1.04)" x="410.4" y="0" font-size="21.80" fill="#000">8</text>
<text transform="translate(0,617.3) scale(1,1.04)" x="410.1" y="0" font-size="21.80" fill="#000">4</text>
<text transform="translate(0,670.7) scale(1,1.04)" x="410.3" y="0" font-size="21.80" fill="#000">0</text>
<text transform="translate(0,698.5) scale(1,1.04)" x="448.8" y="0" font-size="21.50" fill="#000">10</text>
<text transform="translate(0,690.8) scale(1,1.04)" x="472.8" y="0" font-size="16.22" fill="#000">-12</text>
<text transform="translate(0,698.5) scale(1,1.04)" x="506.1" y="0" font-size="21.50" fill="#000">10</text>
<text transform="translate(0,690.8) scale(1,1.04)" x="530.1" y="0" font-size="16.22" fill="#000">-10</text>
<text transform="translate(0,698.5) scale(1,1.04)" x="568" y="0" font-size="21.50" fill="#000">10</text>
<text transform="translate(0,690.8) scale(1,1.04)" x="592" y="0" font-size="16.22" fill="#000">-8</text>
<text transform="translate(0,698.5) scale(1,1.04)" x="625.4" y="0" font-size="21.50" fill="#000">10</text>
<text transform="translate(0,690.8) scale(1,1.04)" x="649.4" y="0" font-size="16.22" fill="#000">-6</text>
<text transform="translate(0,722.2) scale(1,1.04)" x="489.7" y="0" font-size="20.51" fill="#000">Molarity (M)</text>
<text transform="translate(392.2,0) rotate(-90) scale(1,1.04)" x="-635.6" y="0" font-size="20.73" fill="#000">IL-5 (ng/ml)</text>
<path d="M470.8,537.6 L471.9,537.6 L473,537.6 L474.1,537.6 L475.2,537.6 L476.3,537.6 L477.4,537.6 L478.5,537.6 L479.6,537.6 L480.7,537.6 L481.8,537.6 L482.9,537.6 L484.1,537.6 L485.2,537.6 L486.3,537.6 L487.4,537.6 L488.5,537.6 L489.6,537.6 L490.7,537.6 L491.8,537.6 L492.9,537.6 L494,537.6 L495.1,537.6 L496.2,537.6 L497.3,537.6 L498.5,537.6 L499.6,537.6 L500.7,537.6 L501.8,537.6 L502.9,537.6 L504,537.6 L505.1,537.6 L506.2,537.6 L507.3,537.6 L508.4,537.6 L509.5,537.6 L510.6,537.6 L511.7,537.6 L512.9,537.6 L514,537.6 L515.1,537.6 L516.2,537.6 L517.3,537.6 L518.4,537.6 L519.5,537.6 L520.6,537.6 L521.7,537.6 L522.8,537.6 L523.9,537.6 L525,537.6 L526.1,537.6 L527.3,537.6 L528.4,537.6 L529.5,537.6 L530.6,537.6 L531.7,537.6 L532.8,537.6 L533.9,537.6 L535,537.6 L536.1,537.6 L537.2,537.6 L538.3,537.6 L539.4,537.6 L540.5,537.6 L541.6,537.6 L542.8,537.6 L543.9,537.6 L545,537.6 L546.1,537.6 L547.2,537.6 L548.3,537.6 L549.4,537.6 L550.5,537.6 L551.6,537.6 L552.7,537.6 L553.8,537.6 L554.9,537.6 L556,537.6 L557.2,537.6 L558.3,537.7 L559.4,537.7 L560.5,537.7 L561.6,537.7 L562.7,537.7 L563.8,537.7 L564.9,537.9 L566,539.4 L567.1,541.9 L568.2,546.5 L569.3,558.1 L570.4,568.8 L571.6,579.3 L572.7,591 L573.8,603.3 L574.9,615.7 L576,626.4 L577.1,635.5 L578.2,641.4 L579.3,645.8 L580.4,649.3 L581.5,652 L582.6,654.3 L583.7,656.3 L584.8,658.1 L586,659.5 L587.1,660.6 L588.2,661.2 L589.3,661.7 L590.4,662.1 L591.5,662.4 L592.6,662.6 L593.7,662.6 L594.8,662.6 L595.9,662.6 L597,662.6 L598.1,662.6 L599.2,662.6 L600.3,662.6 L601.5,662.6 L602.6,662.6 L603.7,662.6 L604.8,662.6 L605.9,662.6 L607,662.6 L608.1,662.6 L609.2,662.6 L610.3,662.6 L611.4,662.6 L612.5,662.6 L613.6,662.6 L614.7,662.6 L615.9,662.6 L617,662.6 L618.1,662.6 L619.2,662.6 L620.3,662.6 L621.4,662.6 L622.5,662.6 L623.6,662.6 L624.7,662.6 L625.8,662.6 L626.9,662.6 L628,662.6 L629.1,662.6 L630.3,662.6 L631.4,662.6 L632.5,662.6 L633.6,662.6 L634.7,662.6 L635.8,662.6" fill="none" stroke="#19c019" stroke-width="2.4" stroke-dasharray="6,3.6"/>
<path d="M470.8,538.3 L471.9,538.3 L473,538.4 L474.1,538.5 L475.2,538.7 L476.3,538.8 L477.4,539.1 L478.5,539.3 L479.6,539.5 L480.7,539.8 L481.8,540.1 L482.9,540.4 L484.1,540.6 L485.2,541 L486.3,541.4 L487.4,541.8 L488.5,542.3 L489.6,542.9 L490.7,543.5 L491.8,544.1 L492.9,544.9 L494,545.7 L495.1,546.7 L496.2,547.8 L497.3,549 L498.5,550.2 L499.6,551.6 L500.7,553 L501.8,554.6 L502.9,556.5 L504,558.6 L505.1,560.9 L506.2,563.3 L507.3,565.9 L508.4,568.6 L509.5,571.4 L510.6,574.4 L511.7,577.6 L512.9,581.1 L514,584.9 L515.1,589.1 L516.2,594 L517.3,599.3 L518.4,604.6 L519.5,609.7 L520.6,614.6 L521.7,619.5 L522.8,624.4 L523.9,629.1 L525,633.5 L526.1,637.6 L527.3,641.8 L528.4,645.8 L529.5,649.4 L530.6,652.3 L531.7,654.5 L532.8,656.4 L533.9,658.1 L535,659.4 L536.1,660.5 L537.2,661.1 L538.3,661.6 L539.4,662 L540.5,662.3 L541.6,662.5 L542.8,662.6 L543.9,662.6 L545,662.6 L546.1,662.6 L547.2,662.6 L548.3,662.6 L549.4,662.6 L550.5,662.6 L551.6,662.6 L552.7,662.6 L553.8,662.6 L554.9,662.6 L556,662.6 L557.2,662.6 L558.3,662.6 L559.4,662.6 L560.5,662.6 L561.6,662.6 L562.7,662.6 L563.8,662.6 L564.9,662.6 L566,662.6 L567.1,662.6 L568.2,662.6 L569.3,662.6 L570.4,662.6 L571.6,662.6 L572.7,662.6 L573.8,662.6 L574.9,662.6 L576,662.6 L577.1,662.6 L578.2,662.6 L579.3,662.6 L580.4,662.6 L581.5,662.6 L582.6,662.6 L583.7,662.6 L584.8,662.6 L586,662.6 L587.1,662.6 L588.2,662.6 L589.3,662.6 L590.4,662.6 L591.5,662.6 L592.6,662.6 L593.7,662.6 L594.8,662.6 L595.9,662.6 L597,662.6 L598.1,662.6 L599.2,662.6 L600.3,662.6 L601.5,662.6 L602.6,662.6 L603.7,662.6 L604.8,662.6 L605.9,662.6 L607,662.6 L608.1,662.6 L609.2,662.6 L610.3,662.6 L611.4,662.6 L612.5,662.6 L613.6,662.6 L614.7,662.6 L615.9,662.6 L617,662.6 L618.1,662.6 L619.2,662.6 L620.3,662.6 L621.4,662.6 L622.5,662.6 L623.6,662.6 L624.7,662.6 L625.8,662.6 L626.9,662.6 L628,662.6 L629.1,662.6 L630.3,662.6 L631.4,662.6 L632.5,662.6 L633.6,662.6 L634.7,662.6 L635.8,662.6" fill="none" stroke="#123cff" stroke-width="2.4" stroke-dasharray="6,3.6"/>
<line x1="442.65" y1="662.8" x2="641" y2="662.8" stroke="#000" stroke-width="4" stroke-dasharray="2.3,8.3" stroke-linecap="round"/>
<path d="M472.2,558.7 L473.6,558.7 L474.9,558.6 L476.3,558.5 L477.7,558.4 L479.1,558.4 L480.4,558.3 L481.8,558.2 L483.2,558.1 L484.6,558 L485.9,557.9 L487.3,557.8 L488.7,557.7 L490.1,557.6 L491.4,557.5 L492.8,557.3 L494.2,557.2 L495.6,557.1 L496.9,556.9 L498.3,556.8 L499.7,556.6 L501.1,556.4 L502.4,556.3 L503.8,556.1 L505.2,555.9 L506.6,555.7 L507.9,555.5 L509.3,555.3 L510.7,555.1 L512.1,554.9 L513.4,554.7 L514.8,554.4 L516.2,554.2 L517.6,553.9 L518.9,553.7 L520.3,553.4 L521.7,553.2 L523.1,552.9 L524.4,552.6 L525.8,552.3 L527.2,552 L528.6,551.8 L529.9,551.5 L531.3,551.2 L532.7,550.8 L534.1,550.5 L535.4,550.2 L536.8,549.9 L538.2,549.6 L539.6,549.3 L540.9,548.9 L542.3,548.6 L543.7,548.3 L545.1,547.9 L546.4,547.6 L547.8,547.3 L549.2,547 L550.6,546.7 L551.9,546.3 L553.3,546 L554.7,545.7 L556.1,545.4 L557.4,545.1 L558.8,544.8 L560.2,544.5 L561.6,544.2 L562.9,543.9 L564.3,543.6 L565.7,543.4 L567.1,543.1 L568.4,542.8 L569.8,542.6 L571.2,542.3 L572.6,542.1 L573.9,541.9 L575.3,541.6 L576.7,541.4 L578.1,541.2 L579.4,541 L580.8,540.8 L582.2,540.6 L583.6,540.4 L584.9,540.3 L586.3,540.1 L587.7,539.9 L589,539.8 L590.4,539.6 L591.8,539.5 L593.2,539.3 L594.5,539.2 L595.9,539.1 L597.3,539 L598.7,538.8 L600,538.7 L601.4,538.6 L602.8,538.5 L604.2,538.4 L605.5,538.3 L606.9,538.2 L608.3,538.2 L609.7,538.1 L611,538 L612.4,537.9 L613.8,537.9 L615.2,537.8 L616.5,537.7 L617.9,537.7 L619.3,537.6 L620.7,537.6 L622,537.5 L623.4,537.5 L624.8,537.4 L626.2,537.4 L627.5,537.3 L628.9,537.3 L630.3,537.3 L631.7,537.2 L633,537.2 L634.4,537.2 L635.8,537.1" fill="none" stroke="#ff1010" stroke-width="2.4" stroke-dasharray="6,3.6"/>
<circle cx="532" cy="655.3" r="2.4" fill="#123cff"/>
<circle cx="552.5" cy="662.6" r="2.4" fill="#123cff"/>
<circle cx="572.6" cy="662.6" r="2.4" fill="#123cff"/>
<circle cx="592.6" cy="662.6" r="2.4" fill="#123cff"/>
<circle cx="612.8" cy="662.6" r="2.4" fill="#123cff"/>
<circle cx="633.6" cy="662.6" r="2.4" fill="#123cff"/>
<circle cx="596.2" cy="662.6" r="2.4" fill="#19c019"/>
<circle cx="614.5" cy="662.6" r="2.4" fill="#19c019"/>
<g stroke="#19c019" stroke-width="2.0" fill="none"><line x1="475.8" y1="532.2" x2="475.8" y2="566.9"/><line x1="471" y1="532.2" x2="480.6" y2="532.2"/><line x1="471" y1="566.9" x2="480.6" y2="566.9"/></g>
<circle cx="475.8" cy="537.5" r="2.2" fill="#19c019"/>
<g stroke="#19c019" stroke-width="2.0" fill="none"><line x1="495.8" y1="541" x2="495.8" y2="566.9"/><line x1="491" y1="541" x2="500.6" y2="541"/><line x1="491" y1="566.9" x2="500.6" y2="566.9"/></g>
<circle cx="495.8" cy="541" r="2.2" fill="#19c019"/>
<g stroke="#19c019" stroke-width="2.0" fill="none"><line x1="516.2" y1="529.7" x2="516.2" y2="548"/><line x1="511.4" y1="529.7" x2="521" y2="529.7"/><line x1="511.4" y1="548" x2="521" y2="548"/></g>
<circle cx="516.2" cy="537.7" r="2.2" fill="#19c019"/>
<g stroke="#19c019" stroke-width="2.0" fill="none"><line x1="556.1" y1="514" x2="556.1" y2="558.5"/><line x1="551.3" y1="514" x2="560.9" y2="514"/><line x1="551.3" y1="558.5" x2="560.9" y2="558.5"/></g>
<circle cx="556.1" cy="536.6" r="2.2" fill="#19c019"/>
<g stroke="#19c019" stroke-width="2.0" fill="none"><line x1="576.2" y1="626.4" x2="576.2" y2="644.2"/><line x1="571.4" y1="626.4" x2="581" y2="626.4"/><line x1="571.4" y1="644.2" x2="581" y2="644.2"/></g>
<circle cx="576.2" cy="635.8" r="2.2" fill="#19c019"/>
<g stroke="#19c019" stroke-width="2.0" fill="none"><line x1="636.9" y1="655.5" x2="636.9" y2="660"/><line x1="632.1" y1="655.5" x2="641.7" y2="655.5"/><line x1="632.1" y1="660" x2="641.7" y2="660"/></g>
<circle cx="636.9" cy="657.8" r="2.2" fill="#19c019"/>
<g stroke="#ff1010" stroke-width="2.0" fill="none"><line x1="476.8" y1="539.9" x2="476.8" y2="562.6"/><line x1="472" y1="539.9" x2="481.6" y2="539.9"/><line x1="472" y1="562.6" x2="481.6" y2="562.6"/></g>
<circle cx="476.8" cy="551.6" r="2.2" fill="#ff1010"/>
<g stroke="#ff1010" stroke-width="2.0" fill="none"><line x1="497.2" y1="547.2" x2="497.2" y2="577.2"/><line x1="492.4" y1="547.2" x2="502" y2="547.2"/><line x1="492.4" y1="577.2" x2="502" y2="577.2"/></g>
<circle cx="497.2" cy="561.8" r="2.2" fill="#ff1010"/>
<g stroke="#ff1010" stroke-width="2.0" fill="none"><line x1="517.7" y1="540.4" x2="517.7" y2="566.9"/><line x1="512.9" y1="540.4" x2="522.5" y2="540.4"/><line x1="512.9" y1="566.9" x2="522.5" y2="566.9"/></g>
<circle cx="517.7" cy="553.5" r="2.2" fill="#ff1010"/>
<g stroke="#ff1010" stroke-width="2.0" fill="none"><line x1="537.4" y1="522.4" x2="537.4" y2="545"/><line x1="532.6" y1="522.4" x2="542.2" y2="522.4"/><line x1="532.6" y1="545" x2="542.2" y2="545"/></g>
<circle cx="537.4" cy="533.6" r="2.2" fill="#ff1010"/>
<g stroke="#ff1010" stroke-width="2.0" fill="none"><line x1="557.6" y1="557" x2="557.6" y2="568"/><line x1="552.8" y1="557" x2="562.4" y2="557"/><line x1="552.8" y1="568" x2="562.4" y2="568"/></g>
<circle cx="557.6" cy="562.4" r="2.2" fill="#ff1010"/>
<g stroke="#ff1010" stroke-width="2.0" fill="none"><line x1="578" y1="538.8" x2="578" y2="566.1"/><line x1="573.2" y1="538.8" x2="582.8" y2="538.8"/><line x1="573.2" y1="566.1" x2="582.8" y2="566.1"/></g>
<circle cx="578" cy="552.7" r="2.2" fill="#ff1010"/>
<g stroke="#ff1010" stroke-width="2.0" fill="none"><line x1="597.9" y1="512.8" x2="597.9" y2="538.5"/><line x1="593.1" y1="512.8" x2="602.7" y2="512.8"/><line x1="593.1" y1="538.5" x2="602.7" y2="538.5"/></g>
<circle cx="597.9" cy="525.7" r="2.2" fill="#ff1010"/>
<g stroke="#ff1010" stroke-width="2.0" fill="none"><line x1="617.9" y1="506.7" x2="617.9" y2="548.7"/><line x1="613.1" y1="506.7" x2="622.7" y2="506.7"/><line x1="613.1" y1="548.7" x2="622.7" y2="548.7"/></g>
<circle cx="617.9" cy="527.4" r="2.2" fill="#ff1010"/>
<g stroke="#ff1010" stroke-width="2.0" fill="none"><line x1="638" y1="513.2" x2="638" y2="534.7"/><line x1="633.2" y1="513.2" x2="642.8" y2="513.2"/><line x1="633.2" y1="534.7" x2="642.8" y2="534.7"/></g>
<circle cx="638" cy="523.9" r="2.2" fill="#ff1010"/>
<g stroke="#123cff" stroke-width="2.0" fill="none"><line x1="472.4" y1="550.9" x2="472.4" y2="567.7"/><line x1="467.6" y1="550.9" x2="477.2" y2="550.9"/><line x1="467.6" y1="567.7" x2="477.2" y2="567.7"/></g>
<circle cx="472.4" cy="559.3" r="2.2" fill="#123cff"/>
<g stroke="#123cff" stroke-width="2.0" fill="none"><line x1="492.1" y1="526" x2="492.1" y2="554.5"/><line x1="487.3" y1="526" x2="496.9" y2="526"/><line x1="487.3" y1="554.5" x2="496.9" y2="554.5"/></g>
<circle cx="492.1" cy="540.4" r="2.2" fill="#123cff"/>
<g stroke="#123cff" stroke-width="2.0" fill="none"><line x1="512.3" y1="577.2" x2="512.3" y2="584.7"/><line x1="507.5" y1="577.2" x2="517.1" y2="577.2"/><line x1="507.5" y1="584.7" x2="517.1" y2="584.7"/></g>
<circle cx="512.3" cy="580.8" r="2.2" fill="#123cff"/>
<g stroke="#123cff" stroke-width="2.2" fill="none"><line x1="352.1" y1="702.6" x2="352.1" y2="722.3"/><line x1="348.7" y1="702.6" x2="355.5" y2="702.6"/><line x1="348.7" y1="722.3" x2="355.5" y2="722.3"/></g>
<circle cx="352.1" cy="711.8" r="2.2" fill="#123cff"/>
<circle cx="352.1" cy="711.8" r="4.0" fill="#123cff"/>
<text transform="translate(0,722.3) scale(1,1.04)" x="365" y="0" font-size="21.99" fill="#123cff">HpARI2</text>
<g stroke="#ff1010" stroke-width="2.2" fill="none"><line x1="326.6" y1="737.3" x2="326.6" y2="756.5"/><line x1="323.2" y1="737.3" x2="330" y2="737.3"/><line x1="323.2" y1="756.5" x2="330" y2="756.5"/></g>
<circle cx="326.6" cy="746.8" r="2.2" fill="#ff1010"/>
<circle cx="326.6" cy="746.8" r="4.0" fill="#ff1010"/>
<text transform="translate(0,757.3) scale(1,1.04)" x="334.5" y="0" font-size="21.44" fill="#ff1010">HpARI2_CCP1/2</text>
<g stroke="#82d45c" stroke-width="2.2" fill="none"><line x1="515" y1="738.4" x2="515" y2="759.2"/><line x1="511.6" y1="738.4" x2="518.4" y2="738.4"/><line x1="511.6" y1="759.2" x2="518.4" y2="759.2"/></g>
<circle cx="515" cy="748.4" r="2.2" fill="#82d45c"/>
<circle cx="515" cy="748.4" r="4.0" fill="#82d45c"/>
<text transform="translate(0,758.4) scale(1,1.04)" x="521.8" y="0" font-size="21.59" fill="#82d45c">HpARI2_CCP2/3</text>
</svg>
</body></html>
